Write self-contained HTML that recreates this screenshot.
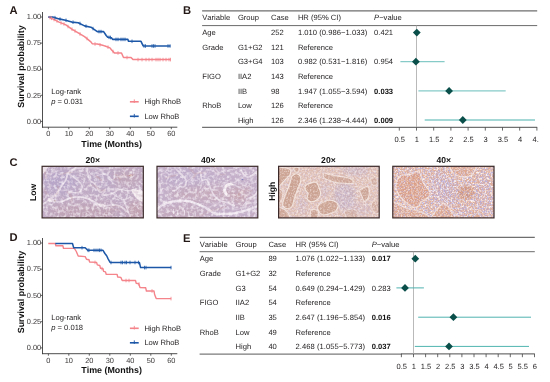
<!DOCTYPE html>
<html><head><meta charset="utf-8"><title>Figure</title>
<style>
html,body{margin:0;padding:0;background:#fff;}
body{width:550px;height:382px;overflow:hidden;}
svg{display:block;font-family:"Liberation Sans",sans-serif;font-kerning:none;text-rendering:geometricPrecision;}
.pl{font-size:11.2px;font-weight:bold;fill:#231815;}
.tk{font-size:7.4px;fill:#3c3838;}
.ft{font-size:7.5px;fill:#1f1c1c;}
.t{font-size:7.6px;fill:#1f1c1c;}
.tb{font-size:7.6px;fill:#111;font-weight:bold;}
.axl{font-size:8.9px;font-weight:bold;fill:#111;}
.cl{font-size:8.6px;font-weight:bold;fill:#111;}
</style></head><body>
<svg width="550" height="382" viewBox="0 0 550 382">
<rect width="550" height="382" fill="#fff"/>
<g>
<text x="9.6" y="14.1" class="pl">A</text>
<line x1="42.5" y1="12.0" x2="42.5" y2="127.7" stroke="#3a3a3a" stroke-width="0.9"/>
<line x1="42.1" y1="127.2" x2="177.3" y2="127.2" stroke="#3a3a3a" stroke-width="0.9"/>
<line x1="40.6" y1="121.4" x2="42.5" y2="121.4" stroke="#3a3a3a" stroke-width="0.8"/>
<text x="41.2" y="123.6" class="tk" text-anchor="end">0.00</text>
<line x1="40.6" y1="95.3" x2="42.5" y2="95.3" stroke="#3a3a3a" stroke-width="0.8"/>
<text x="41.2" y="97.5" class="tk" text-anchor="end">0.25</text>
<line x1="40.6" y1="69.2" x2="42.5" y2="69.2" stroke="#3a3a3a" stroke-width="0.8"/>
<text x="41.2" y="71.4" class="tk" text-anchor="end">0.50</text>
<line x1="40.6" y1="43.1" x2="42.5" y2="43.1" stroke="#3a3a3a" stroke-width="0.8"/>
<text x="41.2" y="45.3" class="tk" text-anchor="end">0.75</text>
<line x1="40.6" y1="17.0" x2="42.5" y2="17.0" stroke="#3a3a3a" stroke-width="0.8"/>
<text x="41.2" y="19.2" class="tk" text-anchor="end">1.00</text>
<line x1="48.4" y1="127.2" x2="48.4" y2="129.2" stroke="#3a3a3a" stroke-width="0.8"/>
<text x="48.4" y="136.4" class="tk" text-anchor="middle">0</text>
<line x1="68.8" y1="127.2" x2="68.8" y2="129.2" stroke="#3a3a3a" stroke-width="0.8"/>
<text x="68.8" y="136.4" class="tk" text-anchor="middle">10</text>
<line x1="89.3" y1="127.2" x2="89.3" y2="129.2" stroke="#3a3a3a" stroke-width="0.8"/>
<text x="89.3" y="136.4" class="tk" text-anchor="middle">20</text>
<line x1="109.8" y1="127.2" x2="109.8" y2="129.2" stroke="#3a3a3a" stroke-width="0.8"/>
<text x="109.8" y="136.4" class="tk" text-anchor="middle">30</text>
<line x1="130.3" y1="127.2" x2="130.3" y2="129.2" stroke="#3a3a3a" stroke-width="0.8"/>
<text x="130.3" y="136.4" class="tk" text-anchor="middle">40</text>
<line x1="150.8" y1="127.2" x2="150.8" y2="129.2" stroke="#3a3a3a" stroke-width="0.8"/>
<text x="150.8" y="136.4" class="tk" text-anchor="middle">50</text>
<line x1="171.3" y1="127.2" x2="171.3" y2="129.2" stroke="#3a3a3a" stroke-width="0.8"/>
<text x="171.3" y="136.4" class="tk" text-anchor="middle">60</text>
<text x="111.6" y="146.8" class="axl" text-anchor="middle">Time (Months)</text>
<text transform="translate(24.3,66.6) rotate(-90)" class="axl" text-anchor="middle">Survival probability</text>
<text x="51.2" y="94.0" class="t">Log-rank</text>
<text x="51.2" y="103.9" class="t"><tspan font-style="italic">p</tspan> = 0.031</text>
<line x1="129.9" y1="101.8" x2="138.7" y2="101.8" stroke="#F4838A" stroke-width="1.6"/>
<line x1="134.3" y1="99.4" x2="134.3" y2="103.0" stroke="#F4838A" stroke-width="0.9"/>
<text x="144.4" y="104.4" class="t">High RhoB</text>
<line x1="129.9" y1="116.3" x2="138.7" y2="116.3" stroke="#1C57A7" stroke-width="1.6"/>
<line x1="134.3" y1="113.9" x2="134.3" y2="117.5" stroke="#1C57A7" stroke-width="0.9"/>
<text x="144.4" y="118.9" class="t">Low RhoB</text>
<path d="M48.3,17.0 L52.7,18.9 L59.1,22.1 L65.5,24.6 L71.8,29.1 L78.2,32.9 L84.5,36.7 L90.9,41.8 L92.2,43.7 L97.3,44.1 L103.6,45.6 L105.0,46.0 L110.0,47.9 L111.4,49.8 L114.5,53.0 L121.5,53.0 L123.5,57.5 L131.0,57.5 L133.0,59.6 L170.5,59.6" fill="none" stroke="#F4838A" stroke-width="1.5" stroke-linejoin="round"/>
<path d="M48.3,17.0 L52.7,17.0 L59.1,18.9 L65.5,20.2 L71.8,22.1 L78.2,22.7 L84.5,25.9 L90.9,27.2 L97.3,31.6 L103.6,31.6 L106.2,35.5 L107.5,37.1 L111.4,37.7 L112.6,39.4 L127.9,39.4 L128.5,41.3 L139.4,41.3 L141.0,41.3 L143.2,46.0 L170.5,46.0" fill="none" stroke="#1C57A7" stroke-width="1.6" stroke-linejoin="round"/>
<line x1="50.0" y1="15.8" x2="50.0" y2="19.4" stroke="#F4838A" stroke-width="0.8"/>
<line x1="51.5" y1="16.5" x2="51.5" y2="20.1" stroke="#F4838A" stroke-width="0.8"/>
<line x1="54.0" y1="17.7" x2="54.0" y2="21.3" stroke="#F4838A" stroke-width="0.8"/>
<line x1="57.0" y1="19.2" x2="57.0" y2="22.8" stroke="#F4838A" stroke-width="0.8"/>
<line x1="61.0" y1="21.2" x2="61.0" y2="24.8" stroke="#F4838A" stroke-width="0.8"/>
<line x1="64.0" y1="22.2" x2="64.0" y2="25.8" stroke="#F4838A" stroke-width="0.8"/>
<line x1="68.0" y1="24.7" x2="68.0" y2="28.3" stroke="#F4838A" stroke-width="0.8"/>
<line x1="72.0" y1="27.4" x2="72.0" y2="31.0" stroke="#F4838A" stroke-width="0.8"/>
<line x1="75.0" y1="29.2" x2="75.0" y2="32.8" stroke="#F4838A" stroke-width="0.8"/>
<line x1="80.0" y1="32.2" x2="80.0" y2="35.8" stroke="#F4838A" stroke-width="0.8"/>
<line x1="87.0" y1="36.7" x2="87.0" y2="40.3" stroke="#F4838A" stroke-width="0.8"/>
<line x1="95.0" y1="42.2" x2="95.0" y2="45.8" stroke="#F4838A" stroke-width="0.8"/>
<line x1="100.0" y1="43.0" x2="100.0" y2="46.6" stroke="#F4838A" stroke-width="0.8"/>
<line x1="108.0" y1="45.4" x2="108.0" y2="49.0" stroke="#F4838A" stroke-width="0.8"/>
<line x1="113.0" y1="49.7" x2="113.0" y2="53.3" stroke="#F4838A" stroke-width="0.8"/>
<line x1="118.0" y1="51.2" x2="118.0" y2="54.8" stroke="#F4838A" stroke-width="0.8"/>
<line x1="127.0" y1="55.7" x2="127.0" y2="59.3" stroke="#F4838A" stroke-width="0.8"/>
<line x1="138.0" y1="57.8" x2="138.0" y2="61.4" stroke="#F4838A" stroke-width="0.8"/>
<line x1="142.0" y1="57.8" x2="142.0" y2="61.4" stroke="#F4838A" stroke-width="0.8"/>
<line x1="146.0" y1="57.8" x2="146.0" y2="61.4" stroke="#F4838A" stroke-width="0.8"/>
<line x1="149.0" y1="57.8" x2="149.0" y2="61.4" stroke="#F4838A" stroke-width="0.8"/>
<line x1="152.0" y1="57.8" x2="152.0" y2="61.4" stroke="#F4838A" stroke-width="0.8"/>
<line x1="156.0" y1="57.8" x2="156.0" y2="61.4" stroke="#F4838A" stroke-width="0.8"/>
<line x1="158.0" y1="57.8" x2="158.0" y2="61.4" stroke="#F4838A" stroke-width="0.8"/>
<line x1="160.0" y1="57.8" x2="160.0" y2="61.4" stroke="#F4838A" stroke-width="0.8"/>
<line x1="163.0" y1="57.8" x2="163.0" y2="61.4" stroke="#F4838A" stroke-width="0.8"/>
<line x1="166.0" y1="57.8" x2="166.0" y2="61.4" stroke="#F4838A" stroke-width="0.8"/>
<line x1="169.0" y1="57.8" x2="169.0" y2="61.4" stroke="#F4838A" stroke-width="0.8"/>
<line x1="170.5" y1="57.8" x2="170.5" y2="61.4" stroke="#F4838A" stroke-width="0.8"/>
<line x1="55.0" y1="15.9" x2="55.0" y2="19.5" stroke="#1C57A7" stroke-width="0.8"/>
<line x1="60.0" y1="17.3" x2="60.0" y2="20.9" stroke="#1C57A7" stroke-width="0.8"/>
<line x1="66.0" y1="18.5" x2="66.0" y2="22.1" stroke="#1C57A7" stroke-width="0.8"/>
<line x1="73.0" y1="20.4" x2="73.0" y2="24.0" stroke="#1C57A7" stroke-width="0.8"/>
<line x1="80.0" y1="21.7" x2="80.0" y2="25.3" stroke="#1C57A7" stroke-width="0.8"/>
<line x1="86.0" y1="24.4" x2="86.0" y2="28.0" stroke="#1C57A7" stroke-width="0.8"/>
<line x1="93.0" y1="26.8" x2="93.0" y2="30.4" stroke="#1C57A7" stroke-width="0.8"/>
<line x1="99.0" y1="29.8" x2="99.0" y2="33.4" stroke="#1C57A7" stroke-width="0.8"/>
<line x1="101.0" y1="29.8" x2="101.0" y2="33.4" stroke="#1C57A7" stroke-width="0.8"/>
<line x1="109.0" y1="35.5" x2="109.0" y2="39.1" stroke="#1C57A7" stroke-width="0.8"/>
<line x1="110.5" y1="35.7" x2="110.5" y2="39.3" stroke="#1C57A7" stroke-width="0.8"/>
<line x1="116.0" y1="37.6" x2="116.0" y2="41.2" stroke="#1C57A7" stroke-width="0.8"/>
<line x1="118.0" y1="37.6" x2="118.0" y2="41.2" stroke="#1C57A7" stroke-width="0.8"/>
<line x1="121.0" y1="37.6" x2="121.0" y2="41.2" stroke="#1C57A7" stroke-width="0.8"/>
<line x1="123.0" y1="37.6" x2="123.0" y2="41.2" stroke="#1C57A7" stroke-width="0.8"/>
<line x1="125.0" y1="37.6" x2="125.0" y2="41.2" stroke="#1C57A7" stroke-width="0.8"/>
<line x1="132.0" y1="39.5" x2="132.0" y2="43.1" stroke="#1C57A7" stroke-width="0.8"/>
<line x1="144.0" y1="44.2" x2="144.0" y2="47.8" stroke="#1C57A7" stroke-width="0.8"/>
<line x1="145.5" y1="44.2" x2="145.5" y2="47.8" stroke="#1C57A7" stroke-width="0.8"/>
<line x1="152.0" y1="44.2" x2="152.0" y2="47.8" stroke="#1C57A7" stroke-width="0.8"/>
<line x1="153.5" y1="44.2" x2="153.5" y2="47.8" stroke="#1C57A7" stroke-width="0.8"/>
<line x1="155.0" y1="44.2" x2="155.0" y2="47.8" stroke="#1C57A7" stroke-width="0.8"/>
<line x1="168.0" y1="44.2" x2="168.0" y2="47.8" stroke="#1C57A7" stroke-width="0.8"/>
<line x1="170.0" y1="44.2" x2="170.0" y2="47.8" stroke="#1C57A7" stroke-width="0.8"/>
</g>
<g>
<text x="9.6" y="241.3" class="pl">D</text>
<line x1="42.5" y1="238.0" x2="42.5" y2="354.1" stroke="#3a3a3a" stroke-width="0.9"/>
<line x1="42.1" y1="353.7" x2="177.3" y2="353.7" stroke="#3a3a3a" stroke-width="0.9"/>
<line x1="40.6" y1="347.9" x2="42.5" y2="347.9" stroke="#3a3a3a" stroke-width="0.8"/>
<text x="41.2" y="350.1" class="tk" text-anchor="end">0.00</text>
<line x1="40.6" y1="321.7" x2="42.5" y2="321.7" stroke="#3a3a3a" stroke-width="0.8"/>
<text x="41.2" y="323.9" class="tk" text-anchor="end">0.25</text>
<line x1="40.6" y1="295.4" x2="42.5" y2="295.4" stroke="#3a3a3a" stroke-width="0.8"/>
<text x="41.2" y="297.6" class="tk" text-anchor="end">0.50</text>
<line x1="40.6" y1="269.2" x2="42.5" y2="269.2" stroke="#3a3a3a" stroke-width="0.8"/>
<text x="41.2" y="271.4" class="tk" text-anchor="end">0.75</text>
<line x1="40.6" y1="243.0" x2="42.5" y2="243.0" stroke="#3a3a3a" stroke-width="0.8"/>
<text x="41.2" y="245.2" class="tk" text-anchor="end">1.00</text>
<line x1="48.4" y1="353.7" x2="48.4" y2="355.7" stroke="#3a3a3a" stroke-width="0.8"/>
<text x="48.4" y="362.9" class="tk" text-anchor="middle">0</text>
<line x1="68.8" y1="353.7" x2="68.8" y2="355.7" stroke="#3a3a3a" stroke-width="0.8"/>
<text x="68.8" y="362.9" class="tk" text-anchor="middle">10</text>
<line x1="89.3" y1="353.7" x2="89.3" y2="355.7" stroke="#3a3a3a" stroke-width="0.8"/>
<text x="89.3" y="362.9" class="tk" text-anchor="middle">20</text>
<line x1="109.8" y1="353.7" x2="109.8" y2="355.7" stroke="#3a3a3a" stroke-width="0.8"/>
<text x="109.8" y="362.9" class="tk" text-anchor="middle">30</text>
<line x1="130.3" y1="353.7" x2="130.3" y2="355.7" stroke="#3a3a3a" stroke-width="0.8"/>
<text x="130.3" y="362.9" class="tk" text-anchor="middle">40</text>
<line x1="150.8" y1="353.7" x2="150.8" y2="355.7" stroke="#3a3a3a" stroke-width="0.8"/>
<text x="150.8" y="362.9" class="tk" text-anchor="middle">50</text>
<line x1="171.3" y1="353.7" x2="171.3" y2="355.7" stroke="#3a3a3a" stroke-width="0.8"/>
<text x="171.3" y="362.9" class="tk" text-anchor="middle">60</text>
<text x="111.6" y="373.3" class="axl" text-anchor="middle">Time (Months)</text>
<text transform="translate(24.3,292.1) rotate(-90)" class="axl" text-anchor="middle">Survival probability</text>
<text x="51.2" y="319.7" class="t">Log-rank</text>
<text x="51.2" y="330.4" class="t"><tspan font-style="italic">p</tspan> = 0.018</text>
<line x1="129.9" y1="328.3" x2="138.7" y2="328.3" stroke="#F4838A" stroke-width="1.6"/>
<line x1="134.3" y1="325.9" x2="134.3" y2="329.5" stroke="#F4838A" stroke-width="0.9"/>
<text x="144.4" y="330.9" class="t">High RhoB</text>
<line x1="129.9" y1="342.8" x2="138.7" y2="342.8" stroke="#1C57A7" stroke-width="1.6"/>
<line x1="134.3" y1="340.4" x2="134.3" y2="344.0" stroke="#1C57A7" stroke-width="0.9"/>
<text x="144.4" y="345.4" class="t">Low RhoB</text>
<path d="M48.3,243.5 L55.3,243.5 L55.9,245.8 L62.9,245.8 L63.5,248.4 L74.4,248.4 L76.3,251.5 L78.2,256.0 L85.2,256.6 L86.5,259.2 L89.0,259.8 L89.6,262.0 L96.6,262.4 L97.3,264.9 L99.8,265.5 L100.5,268.3 L103.0,268.7 L103.6,271.3 L105.5,271.9 L106.2,274.3 L117.1,274.4 L117.7,277.0 L120.9,277.4 L122.2,280.5 L135.5,280.5 L136.2,283.3 L138.7,283.7 L140.0,287.5 L145.7,287.8 L146.4,291.0 L154.0,291.0 L154.6,294.5 L156.2,298.6 L171.2,298.6" fill="none" stroke="#F4838A" stroke-width="1.4" stroke-linejoin="round"/>
<path d="M55.3,243.5 L72.5,243.5 L73.7,247.7 L85.2,247.7 L87.7,250.3 L103.0,250.3 L104.9,253.5 L106.8,256.0 L108.0,258.6 L110.1,262.5 L139.4,262.5 L140.6,267.6 L171.2,267.6" fill="none" stroke="#1C57A7" stroke-width="1.5" stroke-linejoin="round"/>
<line x1="95.0" y1="260.6" x2="95.0" y2="264.2" stroke="#F4838A" stroke-width="0.8"/>
<line x1="102.0" y1="266.8" x2="102.0" y2="270.4" stroke="#F4838A" stroke-width="0.8"/>
<line x1="126.0" y1="278.7" x2="126.0" y2="282.3" stroke="#F4838A" stroke-width="0.8"/>
<line x1="129.0" y1="278.7" x2="129.0" y2="282.3" stroke="#F4838A" stroke-width="0.8"/>
<line x1="139.0" y1="282.2" x2="139.0" y2="285.8" stroke="#F4838A" stroke-width="0.8"/>
<line x1="152.0" y1="289.2" x2="152.0" y2="292.8" stroke="#F4838A" stroke-width="0.8"/>
<line x1="171.0" y1="296.8" x2="171.0" y2="300.4" stroke="#F4838A" stroke-width="0.8"/>
<line x1="82.0" y1="245.9" x2="82.0" y2="249.5" stroke="#1C57A7" stroke-width="0.8"/>
<line x1="88.0" y1="248.5" x2="88.0" y2="252.1" stroke="#1C57A7" stroke-width="0.8"/>
<line x1="89.0" y1="248.5" x2="89.0" y2="252.1" stroke="#1C57A7" stroke-width="0.8"/>
<line x1="94.0" y1="248.5" x2="94.0" y2="252.1" stroke="#1C57A7" stroke-width="0.8"/>
<line x1="96.0" y1="248.5" x2="96.0" y2="252.1" stroke="#1C57A7" stroke-width="0.8"/>
<line x1="98.0" y1="248.5" x2="98.0" y2="252.1" stroke="#1C57A7" stroke-width="0.8"/>
<line x1="99.5" y1="248.5" x2="99.5" y2="252.1" stroke="#1C57A7" stroke-width="0.8"/>
<line x1="101.0" y1="248.5" x2="101.0" y2="252.1" stroke="#1C57A7" stroke-width="0.8"/>
<line x1="111.0" y1="260.7" x2="111.0" y2="264.3" stroke="#1C57A7" stroke-width="0.8"/>
<line x1="121.0" y1="260.7" x2="121.0" y2="264.3" stroke="#1C57A7" stroke-width="0.8"/>
<line x1="122.5" y1="260.7" x2="122.5" y2="264.3" stroke="#1C57A7" stroke-width="0.8"/>
<line x1="125.0" y1="260.7" x2="125.0" y2="264.3" stroke="#1C57A7" stroke-width="0.8"/>
<line x1="126.5" y1="260.7" x2="126.5" y2="264.3" stroke="#1C57A7" stroke-width="0.8"/>
<line x1="130.0" y1="260.7" x2="130.0" y2="264.3" stroke="#1C57A7" stroke-width="0.8"/>
<line x1="135.0" y1="260.7" x2="135.0" y2="264.3" stroke="#1C57A7" stroke-width="0.8"/>
<line x1="138.5" y1="260.7" x2="138.5" y2="264.3" stroke="#1C57A7" stroke-width="0.8"/>
<line x1="144.5" y1="265.8" x2="144.5" y2="269.4" stroke="#1C57A7" stroke-width="0.8"/>
<line x1="146.0" y1="265.8" x2="146.0" y2="269.4" stroke="#1C57A7" stroke-width="0.8"/>
<line x1="171.0" y1="265.8" x2="171.0" y2="269.4" stroke="#1C57A7" stroke-width="0.8"/>
</g>
<g>
<text x="183.0" y="13.9" class="pl">B</text>
<line x1="202.1" y1="10.9" x2="537.2" y2="10.9" stroke="#6e6e6e" stroke-width="1.2"/>
<line x1="202.1" y1="25.6" x2="537.2" y2="25.6" stroke="#444" stroke-width="0.8"/>
<line x1="202.1" y1="127.3" x2="537.2" y2="127.3" stroke="#3a3a3a" stroke-width="0.9"/>
<text x="202.3" y="20.3" class="t">Variable</text>
<text x="237.9" y="20.3" class="t">Group</text>
<text x="271.0" y="20.3" class="t">Case</text>
<text x="297.9" y="20.3" class="t">HR (95% CI)</text>
<text x="374.1" y="20.3" class="t"><tspan font-style="italic">P</tspan>−value</text>
<line x1="416.5" y1="25.6" x2="416.5" y2="127.3" stroke="#acacac" stroke-width="0.85"/>
<text x="202.3" y="35.3" class="t">Age</text>
<text x="271.0" y="35.3" class="t">252</text>
<text x="297.9" y="35.3" class="t" textLength="69.4" lengthAdjust="spacing">1.010 (0.986−1.033)</text>
<text x="374.1" y="35.3" class="t">0.421</text>
<line x1="416.0" y1="32.6" x2="417.6" y2="32.6" stroke="#86CBC8" stroke-width="1.3"/>
<path d="M412.9,32.6 L416.8,28.7 L420.7,32.6 L416.8,36.5Z" fill="#0B4F4A"/>
<text x="202.3" y="49.9" class="t">Grade</text>
<text x="237.9" y="49.9" class="t">G1+G2</text>
<text x="271.0" y="49.9" class="t">121</text>
<text x="297.9" y="49.9" class="t">Reference</text>
<text x="237.9" y="64.4" class="t">G3+G4</text>
<text x="271.0" y="64.4" class="t">103</text>
<text x="297.9" y="64.4" class="t" textLength="69.4" lengthAdjust="spacing">0.982 (0.531−1.816)</text>
<text x="374.1" y="64.4" class="t">0.954</text>
<line x1="400.4" y1="61.7" x2="444.6" y2="61.7" stroke="#86CBC8" stroke-width="1.3"/>
<path d="M412.0,61.7 L415.9,57.8 L419.8,61.7 L415.9,65.6Z" fill="#0B4F4A"/>
<text x="202.3" y="79.0" class="t">FIGO</text>
<text x="237.9" y="79.0" class="t">IIA2</text>
<text x="271.0" y="79.0" class="t">143</text>
<text x="297.9" y="79.0" class="t">Reference</text>
<text x="237.9" y="93.6" class="t">IIB</text>
<text x="271.0" y="93.6" class="t">98</text>
<text x="297.9" y="93.6" class="t" textLength="69.4" lengthAdjust="spacing">1.947 (1.055−3.594)</text>
<text x="374.1" y="93.6" class="tb">0.033</text>
<line x1="418.4" y1="90.9" x2="505.7" y2="90.9" stroke="#86CBC8" stroke-width="1.3"/>
<path d="M445.2,90.9 L449.1,87.0 L453.0,90.9 L449.1,94.8Z" fill="#0B4F4A"/>
<text x="202.3" y="108.1" class="t">RhoB</text>
<text x="237.9" y="108.1" class="t">Low</text>
<text x="271.0" y="108.1" class="t">126</text>
<text x="297.9" y="108.1" class="t">Reference</text>
<text x="237.9" y="122.7" class="t">High</text>
<text x="271.0" y="122.7" class="t">126</text>
<text x="297.9" y="122.7" class="t" textLength="69.4" lengthAdjust="spacing">2.346 (1.238−4.444)</text>
<text x="374.1" y="122.7" class="tb">0.009</text>
<line x1="424.7" y1="120.0" x2="535.0" y2="120.0" stroke="#86CBC8" stroke-width="1.3"/>
<path d="M458.9,120.0 L462.8,116.1 L466.7,120.0 L462.8,123.9Z" fill="#0B4F4A"/>
<line x1="399.3" y1="127.3" x2="399.3" y2="130.6" stroke="#444" stroke-width="0.8"/>
<text x="399.7" y="141.9" class="ft" text-anchor="middle">0.5</text>
<line x1="416.5" y1="127.3" x2="416.5" y2="130.6" stroke="#444" stroke-width="0.8"/>
<text x="416.9" y="141.9" class="ft" text-anchor="middle">1</text>
<line x1="433.7" y1="127.3" x2="433.7" y2="130.6" stroke="#444" stroke-width="0.8"/>
<text x="434.1" y="141.9" class="ft" text-anchor="middle">1.5</text>
<line x1="450.9" y1="127.3" x2="450.9" y2="130.6" stroke="#444" stroke-width="0.8"/>
<text x="451.3" y="141.9" class="ft" text-anchor="middle">2</text>
<line x1="468.1" y1="127.3" x2="468.1" y2="130.6" stroke="#444" stroke-width="0.8"/>
<text x="468.5" y="141.9" class="ft" text-anchor="middle">2.5</text>
<line x1="485.3" y1="127.3" x2="485.3" y2="130.6" stroke="#444" stroke-width="0.8"/>
<text x="485.7" y="141.9" class="ft" text-anchor="middle">3</text>
<line x1="502.5" y1="127.3" x2="502.5" y2="130.6" stroke="#444" stroke-width="0.8"/>
<text x="502.9" y="141.9" class="ft" text-anchor="middle">3.5</text>
<line x1="519.7" y1="127.3" x2="519.7" y2="130.6" stroke="#444" stroke-width="0.8"/>
<text x="520.1" y="141.9" class="ft" text-anchor="middle">4</text>
<line x1="536.9" y1="127.3" x2="536.9" y2="130.6" stroke="#444" stroke-width="0.8"/>
<text x="532.6" y="141.9" class="ft">4.</text>
</g>
<g>
<text x="183.1" y="241.7" class="pl">E</text>
<line x1="199.6" y1="237.3" x2="534.8" y2="237.3" stroke="#6e6e6e" stroke-width="1.2"/>
<line x1="199.6" y1="251.7" x2="534.8" y2="251.7" stroke="#444" stroke-width="0.8"/>
<line x1="199.6" y1="354.09999999999997" x2="401.4" y2="354.09999999999997" stroke="#7a7a7a" stroke-width="1.3"/>
<line x1="401.0" y1="353.9" x2="534.8" y2="353.9" stroke="#3a3a3a" stroke-width="0.9"/>
<text x="199.8" y="246.7" class="t">Variable</text>
<text x="235.6" y="246.7" class="t">Group</text>
<text x="268.4" y="246.7" class="t">Case</text>
<text x="295.6" y="246.7" class="t">HR (95% CI)</text>
<text x="371.7" y="246.7" class="t"><tspan font-style="italic">P</tspan>−value</text>
<line x1="413.5" y1="251.7" x2="413.5" y2="353.9" stroke="#acacac" stroke-width="0.85"/>
<text x="199.8" y="261.4" class="t">Age</text>
<text x="268.4" y="261.4" class="t">89</text>
<text x="295.6" y="261.4" class="t" textLength="69.4" lengthAdjust="spacing">1.076 (1.022−1.133)</text>
<text x="371.7" y="261.4" class="tb">0.017</text>
<line x1="414.0" y1="258.7" x2="416.7" y2="258.7" stroke="#4FB3AE" stroke-width="1.0"/>
<path d="M411.4,258.7 L415.3,254.8 L419.2,258.7 L415.3,262.6Z" fill="#0B4F4A"/>
<text x="199.8" y="276.0" class="t">Grade</text>
<text x="235.6" y="276.0" class="t">G1+G2</text>
<text x="268.4" y="276.0" class="t">32</text>
<text x="295.6" y="276.0" class="t">Reference</text>
<text x="235.6" y="290.6" class="t">G3</text>
<text x="268.4" y="290.6" class="t">54</text>
<text x="295.6" y="290.6" class="t" textLength="69.4" lengthAdjust="spacing">0.649 (0.294−1.429)</text>
<text x="371.7" y="290.6" class="t">0.283</text>
<line x1="396.4" y1="287.9" x2="423.9" y2="287.9" stroke="#4FB3AE" stroke-width="1.0"/>
<path d="M401.1,287.9 L405.0,284.0 L408.9,287.9 L405.0,291.8Z" fill="#0B4F4A"/>
<text x="199.8" y="305.3" class="t">FIGO</text>
<text x="235.6" y="305.3" class="t">IIA2</text>
<text x="268.4" y="305.3" class="t">54</text>
<text x="295.6" y="305.3" class="t">Reference</text>
<text x="235.6" y="319.9" class="t">IIB</text>
<text x="268.4" y="319.9" class="t">35</text>
<text x="295.6" y="319.9" class="t" textLength="69.4" lengthAdjust="spacing">2.647 (1.196−5.854)</text>
<text x="371.7" y="319.9" class="tb">0.016</text>
<line x1="418.2" y1="317.2" x2="531.0" y2="317.2" stroke="#4FB3AE" stroke-width="1.0"/>
<path d="M449.5,317.2 L453.4,313.3 L457.3,317.2 L453.4,321.1Z" fill="#0B4F4A"/>
<text x="199.8" y="334.5" class="t">RhoB</text>
<text x="235.6" y="334.5" class="t">Low</text>
<text x="268.4" y="334.5" class="t">49</text>
<text x="295.6" y="334.5" class="t">Reference</text>
<text x="235.6" y="349.1" class="t">High</text>
<text x="268.4" y="349.1" class="t">40</text>
<text x="295.6" y="349.1" class="t" textLength="69.4" lengthAdjust="spacing">2.468 (1.055−5.773)</text>
<text x="371.7" y="349.1" class="tb">0.037</text>
<line x1="414.8" y1="346.4" x2="529.0" y2="346.4" stroke="#4FB3AE" stroke-width="1.0"/>
<path d="M445.1,346.4 L449.0,342.5 L452.9,346.4 L449.0,350.3Z" fill="#0B4F4A"/>
<line x1="401.4" y1="353.9" x2="401.4" y2="357.2" stroke="#444" stroke-width="0.8"/>
<text x="401.8" y="368.5" class="ft" text-anchor="middle">0.5</text>
<line x1="413.5" y1="353.9" x2="413.5" y2="357.2" stroke="#444" stroke-width="0.8"/>
<text x="413.9" y="368.5" class="ft" text-anchor="middle">1</text>
<line x1="425.6" y1="353.9" x2="425.6" y2="357.2" stroke="#444" stroke-width="0.8"/>
<text x="426.0" y="368.5" class="ft" text-anchor="middle">1.5</text>
<line x1="437.7" y1="353.9" x2="437.7" y2="357.2" stroke="#444" stroke-width="0.8"/>
<text x="438.1" y="368.5" class="ft" text-anchor="middle">2</text>
<line x1="449.8" y1="353.9" x2="449.8" y2="357.2" stroke="#444" stroke-width="0.8"/>
<text x="450.2" y="368.5" class="ft" text-anchor="middle">2.5</text>
<line x1="461.9" y1="353.9" x2="461.9" y2="357.2" stroke="#444" stroke-width="0.8"/>
<text x="462.3" y="368.5" class="ft" text-anchor="middle">3</text>
<line x1="474.0" y1="353.9" x2="474.0" y2="357.2" stroke="#444" stroke-width="0.8"/>
<text x="474.4" y="368.5" class="ft" text-anchor="middle">3.5</text>
<line x1="486.1" y1="353.9" x2="486.1" y2="357.2" stroke="#444" stroke-width="0.8"/>
<text x="486.5" y="368.5" class="ft" text-anchor="middle">4</text>
<line x1="498.2" y1="353.9" x2="498.2" y2="357.2" stroke="#444" stroke-width="0.8"/>
<text x="498.6" y="368.5" class="ft" text-anchor="middle">4.5</text>
<line x1="510.3" y1="353.9" x2="510.3" y2="357.2" stroke="#444" stroke-width="0.8"/>
<text x="510.7" y="368.5" class="ft" text-anchor="middle">5</text>
<line x1="522.4" y1="353.9" x2="522.4" y2="357.2" stroke="#444" stroke-width="0.8"/>
<text x="522.8" y="368.5" class="ft" text-anchor="middle">5.5</text>
<line x1="534.5" y1="353.9" x2="534.5" y2="357.2" stroke="#444" stroke-width="0.8"/>
<text x="534.9" y="368.5" class="ft" text-anchor="middle">6</text>
</g>
<defs>
<filter id="b05" x="-20%" y="-20%" width="140%" height="140%"><feGaussianBlur stdDeviation="0.5"/></filter>
<filter id="b07" x="-20%" y="-20%" width="140%" height="140%"><feGaussianBlur stdDeviation="0.7"/></filter>
<filter id="b1" x="-20%" y="-20%" width="140%" height="140%"><feGaussianBlur stdDeviation="1"/></filter>
<filter id="b2" x="-30%" y="-30%" width="160%" height="160%"><feGaussianBlur stdDeviation="2"/></filter>
<filter id="b4" x="-50%" y="-50%" width="200%" height="200%"><feGaussianBlur stdDeviation="4"/></filter>
<filter id="nw1" x="0" y="0" width="100%" height="100%"><feTurbulence type="fractalNoise" baseFrequency="0.32" numOctaves="2" seed="3" result="n"/><feColorMatrix in="n" type="matrix" values="0 0 0 0 0.96 0 0 0 0 0.92 0 0 0 0 0.96 3.4 0 0 0 -1.45"/></filter>
<filter id="nw2" x="0" y="0" width="100%" height="100%"><feTurbulence type="fractalNoise" baseFrequency="0.32" numOctaves="2" seed="11" result="n"/><feColorMatrix in="n" type="matrix" values="0 0 0 0 0.96 0 0 0 0 0.92 0 0 0 0 0.96 3.4 0 0 0 -1.45"/></filter>
<filter id="nw3" x="0" y="0" width="100%" height="100%"><feTurbulence type="fractalNoise" baseFrequency="0.45" numOctaves="3" seed="5" result="n"/><feColorMatrix in="n" type="matrix" values="0 0 0 0 1 0 0 0 0 0.93 0 0 0 0 0.92 3.0 0 0 0 -1.3"/></filter>
<filter id="nw4" x="0" y="0" width="100%" height="100%"><feTurbulence type="fractalNoise" baseFrequency="0.5" numOctaves="2" seed="8" result="n"/><feColorMatrix in="n" type="matrix" values="0 0 0 0 1 0 0 0 0 0.95 0 0 0 0 0.94 5 0 0 0 -2.55"/></filter>
<filter id="nd1" x="0" y="0" width="100%" height="100%"><feTurbulence type="fractalNoise" baseFrequency="0.32" numOctaves="2" seed="21" result="n"/><feColorMatrix in="n" type="matrix" values="0 0 0 0 0.55 0 0 0 0 0.4 0 0 0 0 0.55 3.4 0 0 0 -1.5"/></filter>
<filter id="nd2" x="0" y="0" width="100%" height="100%"><feTurbulence type="fractalNoise" baseFrequency="0.32" numOctaves="2" seed="23" result="n"/><feColorMatrix in="n" type="matrix" values="0 0 0 0 0.55 0 0 0 0 0.42 0 0 0 0 0.6 3.4 0 0 0 -1.5"/></filter>
<filter id="nb3" x="0" y="0" width="100%" height="100%"><feTurbulence type="fractalNoise" baseFrequency="0.5" numOctaves="3" seed="31" result="n"/><feColorMatrix in="n" type="matrix" values="0 0 0 0 0.55 0 0 0 0 0.5 0 0 0 0 0.78 3.5 0 0 0 -1.6"/></filter>
<filter id="nb4" x="0" y="0" width="100%" height="100%"><feTurbulence type="fractalNoise" baseFrequency="0.55" numOctaves="2" seed="37" result="n"/><feColorMatrix in="n" type="matrix" values="0 0 0 0 0.45 0 0 0 0 0.42 0 0 0 0 0.76 6 0 0 0 -3.05"/></filter>
<filter id="nr4" x="0" y="0" width="100%" height="100%"><feTurbulence type="fractalNoise" baseFrequency="0.5" numOctaves="2" seed="41" result="n"/><feColorMatrix in="n" type="matrix" values="0 0 0 0 0.83 0 0 0 0 0.5 0 0 0 0 0.36 4 0 0 0 -1.9"/></filter>
<filter id="nf3" x="0" y="0" width="100%" height="100%"><feTurbulence type="fractalNoise" baseFrequency="0.6" numOctaves="2" seed="51" result="n"/><feColorMatrix in="n" type="matrix" values="0 0 0 0 0.98 0 0 0 0 0.9 0 0 0 0 0.88 3.0 0 0 0 -1.3"/></filter>
<filter id="nf4" x="0" y="0" width="100%" height="100%"><feTurbulence type="fractalNoise" baseFrequency="0.7" numOctaves="2" seed="53" result="n"/><feColorMatrix in="n" type="matrix" values="0 0 0 0 1 0 0 0 0 0.92 0 0 0 0 0.9 3.5 0 0 0 -1.5"/></filter>
<filter id="nb4b" x="0" y="0" width="100%" height="100%"><feTurbulence type="fractalNoise" baseFrequency="0.6" numOctaves="2" seed="57" result="n"/><feColorMatrix in="n" type="matrix" values="0 0 0 0 0.45 0 0 0 0 0.42 0 0 0 0 0.78 6 0 0 0 -3.2"/></filter>
</defs>
<g>
<text x="9.6" y="166" class="pl">C</text>
<text x="92.8" y="163.3" class="cl" text-anchor="middle">20×</text>
<text x="208.2" y="163.3" class="cl" text-anchor="middle">40×</text>
<text x="328.4" y="163.3" class="cl" text-anchor="middle">20×</text>
<text x="443.8" y="163.3" class="cl" text-anchor="middle">40×</text>
<text transform="translate(36.4,192.3) rotate(-90)" class="cl" text-anchor="middle">Low</text>
<text transform="translate(274.8,191.2) rotate(-90)" class="cl" text-anchor="middle">High</text>
<svg x="42.1" y="166.3" width="101.2" height="51.6" viewBox="0 0 101.2 51.6" overflow="hidden">
<rect width="101.2" height="51.6" fill="#C1ADC6"/>
<ellipse cx="42" cy="46" rx="36" ry="9" fill="#BE9EAA" opacity="0.65" filter="url(#b4)"/>
<ellipse cx="94" cy="44" rx="10" ry="10" fill="#C29EA4" opacity="0.7" filter="url(#b4)"/>
<ellipse cx="85" cy="12" rx="14" ry="8" fill="#C0A0AC" opacity="0.5" filter="url(#b4)"/>
<ellipse cx="18" cy="16" rx="20" ry="12" fill="#B4A4CA" opacity="0.7" filter="url(#b4)"/>
<ellipse cx="60" cy="14" rx="14" ry="9" fill="#B6A6C8" opacity="0.5" filter="url(#b4)"/>
<path d="M0.0,38.5 C0.5,38.2 1.4,37.7 2.7,36.7 C4.0,35.7 6.2,33.9 8.0,32.5 C9.8,31.1 11.8,30.6 13.6,28.6 C15.4,26.6 17.3,22.9 19.0,20.4 C20.7,17.9 22.7,15.9 23.8,13.6 C24.9,11.3 24.6,8.6 25.9,6.8 C27.1,5.0 28.8,3.6 31.3,2.7 C33.8,1.8 39.2,1.6 40.8,1.4" fill="none" stroke="#F0E8F0" stroke-width="1.60" stroke-linecap="round" opacity="0.84" filter="url(#b07)"/>
<path d="M25.9,6.8 C26.8,7.5 29.5,9.5 31.3,10.9 C33.1,12.3 35.2,13.4 36.7,15.0 C38.2,16.6 39.8,18.7 40.0,20.4 C40.2,22.1 39.2,24.2 38.0,25.2 C36.8,26.2 34.5,26.4 32.7,26.5 C30.9,26.6 27.9,25.7 27.0,25.5" fill="none" stroke="#F0E8F0" stroke-width="1.44" stroke-linecap="round" opacity="0.79" filter="url(#b07)"/>
<path d="M12.0,35.0 C13.2,35.1 16.5,35.9 19.0,35.4 C21.5,34.9 24.5,32.8 27.2,32.0 C29.9,31.2 32.4,30.6 35.4,30.6 C38.4,30.6 42.2,31.2 45.0,32.0 C47.8,32.8 50.0,34.3 52.0,35.4 C54.0,36.5 56.2,38.0 57.0,38.5" fill="none" stroke="#F0E8F0" stroke-width="1.76" stroke-linecap="round" opacity="0.89" filter="url(#b07)"/>
<path d="M45.0,4.0 C45.4,5.6 46.3,11.3 47.6,13.6 C48.9,15.9 51.0,15.6 52.7,17.7 C54.4,19.8 56.2,25.0 58.0,25.9 C59.8,26.8 63.1,22.6 63.6,23.0 C64.1,23.4 59.9,27.9 61.0,28.6 C62.1,29.3 67.7,28.1 70.4,27.2 C73.1,26.3 74.7,23.4 77.2,23.0 C79.7,22.6 83.3,24.3 85.4,24.5 C87.5,24.7 89.2,24.1 90.0,24.0" fill="none" stroke="#F0E8F0" stroke-width="1.44" stroke-linecap="round" opacity="0.79" filter="url(#b07)"/>
<path d="M52.0,11.0 C52.8,10.6 55.1,9.0 57.0,8.5 C58.9,8.0 61.4,7.2 63.6,8.0 C65.8,8.8 68.8,13.6 70.4,13.6 C72.0,13.6 72.6,8.9 73.0,8.0" fill="none" stroke="#F0E8F0" stroke-width="1.28" stroke-linecap="round" opacity="0.63" filter="url(#b07)"/>
<path d="M81.6,33.4 C82.0,34.5 83.1,37.6 84.0,40.0 C84.9,42.4 86.5,46.7 87.0,48.0" fill="none" stroke="#F0E8F0" stroke-width="1.44" stroke-linecap="round" opacity="0.73" filter="url(#b07)"/>
<path d="M57.0,38.5 C58.1,38.7 61.4,39.5 63.6,39.5 C65.8,39.5 67.7,38.5 70.0,38.5 C72.3,38.5 75.3,38.9 77.2,39.5 C79.1,40.1 80.6,41.6 81.3,42.0" fill="none" stroke="#F0E8F0" stroke-width="1.44" stroke-linecap="round" opacity="0.73" filter="url(#b07)"/>
<path d="M44.0,2.0 C45.3,1.9 49.3,1.3 52.0,1.5 C54.7,1.7 57.0,2.9 60.0,3.0 C63.0,3.1 68.3,2.2 70.0,2.0" fill="none" stroke="#F0E8F0" stroke-width="1.28" stroke-linecap="round" opacity="0.53" filter="url(#b07)"/>
<path d="M70.4,27.2 C71.3,27.8 74.1,30.0 76.0,31.0 C77.9,32.0 79.6,33.4 81.6,33.4 C83.6,33.4 86.9,31.4 88.0,31.0" fill="none" stroke="#F0E8F0" stroke-width="1.28" stroke-linecap="round" opacity="0.63" filter="url(#b07)"/>
<path d="M15.0,40.0 C15.3,40.8 16.8,43.2 17.0,45.0 C17.2,46.8 16.2,50.0 16.0,51.0" fill="none" stroke="#F0E8F0" stroke-width="1.12" stroke-linecap="round" opacity="0.47" filter="url(#b07)"/>
<path d="M35.0,38.0 C35.5,39.0 37.7,41.8 38.0,44.0 C38.3,46.2 37.2,49.8 37.0,51.0" fill="none" stroke="#F0E8F0" stroke-width="1.12" stroke-linecap="round" opacity="0.47" filter="url(#b07)"/>
<path d="M50.0,35.4 L55.4,39.5" fill="none" stroke="#F0E8F0" stroke-width="1.44" stroke-linecap="round" opacity="0.73" filter="url(#b07)"/>
<path d="M89.5,23.0 C90.2,22.4 93.2,23.2 95.0,23.5 C96.8,23.8 99.5,23.1 100.5,25.0 C101.5,26.9 101.9,33.7 101.0,35.0 C100.1,36.3 96.7,34.0 95.0,32.7 C93.3,31.4 91.7,28.8 90.8,27.2 C89.9,25.6 88.8,23.6 89.5,23.0Z" fill="#F6EEF0" filter="url(#b05)"/>
<path d="M5.5,32.5 C5.9,31.9 7.9,31.3 9.0,31.5 C10.1,31.7 12.0,32.8 12.2,33.5 C12.4,34.2 10.9,35.2 10.0,35.5 C9.1,35.8 7.2,35.8 6.5,35.3 C5.8,34.8 5.1,33.1 5.5,32.5Z" fill="#F4ECF0" opacity="0.95" filter="url(#b05)"/>
<path d="M56.0,38.0 C56.3,37.4 59.8,37.2 61.0,37.5 C62.2,37.8 63.8,39.4 63.5,40.0 C63.2,40.6 60.2,41.3 59.0,41.0 C57.8,40.7 55.7,38.6 56.0,38.0Z" fill="#F4ECF0" opacity="0.9" filter="url(#b05)"/>
<path d="M0.0,0.0 C1.0,-1.3 5.2,-0.5 6.0,0.0 C6.8,0.5 5.2,1.8 4.5,3.0 C3.8,4.2 2.2,6.2 1.5,7.0 C0.8,7.8 0.2,9.2 0.0,8.0 C-0.2,6.8 -1.0,1.3 0.0,0.0Z" fill="#F4ECF0" opacity="0.9" filter="url(#b05)"/>
<circle cx="89" cy="5.8" r="1.2" fill="#F4ECF0" opacity="0.8" filter="url(#b05)"/>
<circle cx="88.8" cy="8.9" r="1.3" fill="#A8604A" opacity="0.85" filter="url(#b05)"/>
<circle cx="13" cy="34.5" r="0.9" fill="#8A5A5A" opacity="0.7" filter="url(#b05)"/>
<g filter="url(#b07)"><path d="M32.8,7.8 C32.7,7.3 32.5,6.4 32.6,5.1 C32.7,3.8 33.2,0.7 33.3,-0.2" fill="none" stroke="#E6DAE6" stroke-width="0.77" stroke-linecap="round" opacity="0.23"/><path d="M42.3,12.4 C42.0,12.1 41.4,10.9 40.2,10.2 C39.0,9.6 36.0,8.7 35.1,8.5" fill="none" stroke="#E6DAE6" stroke-width="1.23" stroke-linecap="round" opacity="0.35"/><path d="M40.1,50.4 C40.7,50.3 42.6,50.6 43.7,50.1 C44.8,49.7 46.2,48.2 46.7,47.8" fill="none" stroke="#E6DAE6" stroke-width="1.14" stroke-linecap="round" opacity="0.25"/><path d="M58.9,33.0 C58.1,33.3 55.7,34.3 54.1,34.7 C52.4,35.1 51.0,35.2 49.2,35.5 C47.4,35.8 45.2,35.9 43.1,36.2 C41.0,36.5 37.7,37.2 36.6,37.3" fill="none" stroke="#E6DAE6" stroke-width="0.86" stroke-linecap="round" opacity="0.27"/><path d="M18.2,40.2 C19.1,40.7 22.4,42.1 23.7,43.0 C25.0,43.9 25.8,44.8 26.0,45.7 C26.3,46.6 25.3,48.0 25.1,48.4" fill="none" stroke="#E6DAE6" stroke-width="0.89" stroke-linecap="round" opacity="0.40"/><path d="M15.4,25.2 C16.1,24.9 18.1,23.5 19.9,23.2 C21.7,22.8 24.5,23.4 26.2,23.2 C28.0,23.0 28.7,22.6 30.4,22.2 C32.1,21.8 35.4,21.1 36.4,20.8" fill="none" stroke="#E6DAE6" stroke-width="0.67" stroke-linecap="round" opacity="0.23"/><path d="M27.3,36.0 C28.0,36.5 30.7,37.7 31.3,39.1 C31.9,40.4 30.6,42.7 30.8,44.1 C30.9,45.5 31.9,46.6 32.1,47.6 C32.3,48.6 32.1,49.6 32.1,50.0" fill="none" stroke="#E6DAE6" stroke-width="0.92" stroke-linecap="round" opacity="0.25"/><path d="M11.9,3.0 C12.2,2.5 13.0,0.6 14.2,-0.1 C15.4,-0.8 18.2,-1.0 19.0,-1.2" fill="none" stroke="#E6DAE6" stroke-width="0.73" stroke-linecap="round" opacity="0.31"/><path d="M28.1,7.1 C27.6,7.5 26.0,8.6 25.0,9.8 C24.0,11.1 23.0,13.6 22.0,14.5 C20.9,15.4 19.5,14.7 18.5,15.2 C17.5,15.7 16.3,17.2 15.9,17.6" fill="none" stroke="#E6DAE6" stroke-width="0.78" stroke-linecap="round" opacity="0.33"/><path d="M59.6,13.6 C60.5,13.6 63.6,14.0 65.0,13.9 C66.5,13.9 66.8,13.0 68.4,13.3 C70.0,13.5 73.6,15.1 74.7,15.4" fill="none" stroke="#E6DAE6" stroke-width="1.04" stroke-linecap="round" opacity="0.39"/><path d="M46.2,44.9 C47.0,45.1 49.3,45.6 50.7,45.8 C52.0,46.0 53.0,45.8 54.1,45.9 C55.2,46.1 56.1,46.8 57.2,46.7 C58.3,46.6 60.0,45.5 60.6,45.3" fill="none" stroke="#E6DAE6" stroke-width="0.73" stroke-linecap="round" opacity="0.29"/><path d="M5.3,0.0 C5.2,0.7 4.1,3.2 4.3,4.3 C4.5,5.4 6.1,6.4 6.4,6.9" fill="none" stroke="#E6DAE6" stroke-width="0.87" stroke-linecap="round" opacity="0.37"/><path d="M96.7,31.1 C95.7,30.7 92.3,29.2 90.5,28.6 C88.7,27.9 86.7,27.3 85.9,27.0" fill="none" stroke="#E6DAE6" stroke-width="0.68" stroke-linecap="round" opacity="0.24"/><path d="M34.7,13.7 C35.0,13.2 35.5,11.6 36.6,11.0 C37.6,10.4 40.2,10.3 40.9,10.2" fill="none" stroke="#E6DAE6" stroke-width="1.06" stroke-linecap="round" opacity="0.43"/><path d="M76.7,15.4 C76.5,14.9 76.0,13.2 75.5,12.3 C74.9,11.4 73.8,10.2 73.5,9.8" fill="none" stroke="#E6DAE6" stroke-width="1.12" stroke-linecap="round" opacity="0.34"/><path d="M78.8,17.0 C78.5,17.8 77.4,20.5 76.5,21.7 C75.6,22.8 74.1,23.5 73.7,23.8" fill="none" stroke="#E6DAE6" stroke-width="0.96" stroke-linecap="round" opacity="0.30"/><path d="M2.9,1.4 C3.3,2.1 3.9,4.2 4.9,5.5 C5.8,6.8 7.8,8.2 8.6,9.5 C9.4,10.7 9.5,12.3 9.7,12.9" fill="none" stroke="#E6DAE6" stroke-width="1.24" stroke-linecap="round" opacity="0.23"/><path d="M10.3,24.3 C9.6,24.9 7.3,27.3 5.7,28.0 C4.1,28.8 2.7,28.7 0.9,28.7 C-0.9,28.8 -4.3,28.4 -5.3,28.3" fill="none" stroke="#E6DAE6" stroke-width="0.68" stroke-linecap="round" opacity="0.37"/><path d="M92.1,40.4 C92.6,39.9 94.2,38.2 95.1,37.5 C96.1,36.7 96.4,36.0 97.8,35.9 C99.3,35.8 102.7,36.6 103.6,36.7" fill="none" stroke="#E6DAE6" stroke-width="0.92" stroke-linecap="round" opacity="0.39"/><path d="M8.6,8.2 C9.5,7.6 12.3,5.5 13.8,4.9 C15.2,4.3 16.7,4.6 17.3,4.6" fill="none" stroke="#E6DAE6" stroke-width="1.15" stroke-linecap="round" opacity="0.45"/><path d="M66.5,18.1 C65.6,18.5 62.7,20.2 61.3,20.7 C59.8,21.2 58.4,21.0 57.9,21.1" fill="none" stroke="#E6DAE6" stroke-width="1.10" stroke-linecap="round" opacity="0.24"/><path d="M99.8,10.1 C100.1,9.5 101.1,8.1 101.2,6.9 C101.3,5.7 100.6,3.4 100.5,2.7" fill="none" stroke="#E6DAE6" stroke-width="0.79" stroke-linecap="round" opacity="0.31"/><path d="M13.3,47.0 C12.4,47.4 9.9,48.9 8.2,49.9 C6.5,50.9 4.4,52.3 3.0,52.7 C1.5,53.2 0.0,52.5 -0.5,52.5" fill="none" stroke="#E6DAE6" stroke-width="0.73" stroke-linecap="round" opacity="0.34"/><path d="M88.3,40.1 C87.5,40.0 85.0,40.1 83.5,39.7 C81.9,39.3 79.6,38.0 78.9,37.7" fill="none" stroke="#E6DAE6" stroke-width="0.84" stroke-linecap="round" opacity="0.34"/><path d="M56.2,40.5 C56.8,40.4 59.0,40.5 59.9,40.1 C60.9,39.6 61.3,38.6 61.9,37.9 C62.5,37.1 62.7,36.2 63.5,35.7 C64.2,35.2 66.0,35.0 66.6,34.9" fill="none" stroke="#E6DAE6" stroke-width="0.84" stroke-linecap="round" opacity="0.45"/><path d="M61.3,10.3 C61.2,10.9 61.2,13.1 60.2,14.1 C59.2,15.2 57.2,16.2 55.3,16.5 C53.3,16.8 50.5,15.7 48.6,15.8 C46.6,15.9 44.4,16.8 43.5,17.0" fill="none" stroke="#E6DAE6" stroke-width="1.22" stroke-linecap="round" opacity="0.42"/><path d="M13.9,6.3 C13.1,6.3 10.5,6.1 9.2,6.5 C7.8,6.8 6.2,8.0 5.6,8.3" fill="none" stroke="#E6DAE6" stroke-width="0.71" stroke-linecap="round" opacity="0.40"/><path d="M95.1,33.2 C93.9,33.3 90.3,33.3 88.3,34.0 C86.3,34.7 84.3,36.3 82.9,37.4 C81.4,38.4 80.1,39.8 79.6,40.3" fill="none" stroke="#E6DAE6" stroke-width="1.25" stroke-linecap="round" opacity="0.41"/><path d="M16.3,22.3 C15.6,22.3 13.2,22.0 11.9,22.4 C10.7,22.9 9.7,23.9 8.7,24.9 C7.8,25.9 6.8,27.8 6.4,28.3" fill="none" stroke="#E6DAE6" stroke-width="1.07" stroke-linecap="round" opacity="0.30"/><path d="M52.4,15.2 C53.2,15.7 56.5,17.2 57.3,18.1 C58.2,19.1 57.6,20.4 57.7,20.9" fill="none" stroke="#E6DAE6" stroke-width="0.80" stroke-linecap="round" opacity="0.22"/><path d="M78.8,14.0 C79.0,14.7 79.9,17.2 79.6,18.5 C79.2,19.7 77.7,20.4 76.7,21.4 C75.6,22.3 73.8,23.9 73.3,24.4" fill="none" stroke="#E6DAE6" stroke-width="0.94" stroke-linecap="round" opacity="0.29"/><path d="M28.2,41.3 C28.6,41.5 29.5,42.6 30.5,42.9 C31.6,43.2 33.9,42.9 34.6,42.9" fill="none" stroke="#E6DAE6" stroke-width="1.01" stroke-linecap="round" opacity="0.26"/><path d="M26.8,6.3 C27.9,6.2 31.8,5.9 33.4,5.9 C35.0,5.9 35.0,5.7 36.5,6.2 C38.0,6.7 41.3,8.0 42.4,8.9 C43.5,9.9 43.1,11.6 43.2,12.1" fill="none" stroke="#E6DAE6" stroke-width="0.74" stroke-linecap="round" opacity="0.44"/><path d="M63.6,27.4 C63.8,27.9 64.2,29.4 64.6,30.3 C65.1,31.1 65.6,31.8 66.2,32.4 C66.9,32.9 68.4,33.5 68.8,33.7" fill="none" stroke="#E6DAE6" stroke-width="1.09" stroke-linecap="round" opacity="0.35"/><path d="M19.2,24.5 C20.1,24.4 22.9,23.9 24.7,23.9 C26.5,23.9 29.0,24.5 29.8,24.6" fill="none" stroke="#E6DAE6" stroke-width="1.19" stroke-linecap="round" opacity="0.45"/><path d="M31.1,11.1 C30.7,11.8 29.5,14.1 28.5,15.3 C27.6,16.4 26.0,17.6 25.5,18.1" fill="none" stroke="#E6DAE6" stroke-width="0.85" stroke-linecap="round" opacity="0.22"/><path d="M13.1,3.6 C13.0,3.2 12.6,2.1 12.6,1.1 C12.5,0.1 12.8,-1.0 13.1,-2.5 C13.3,-4.0 13.8,-7.0 13.9,-7.9" fill="none" stroke="#E6DAE6" stroke-width="1.01" stroke-linecap="round" opacity="0.38"/><path d="M4.6,9.6 C4.9,10.4 6.7,13.3 6.6,14.8 C6.5,16.2 4.4,17.7 4.0,18.3" fill="none" stroke="#E6DAE6" stroke-width="0.78" stroke-linecap="round" opacity="0.45"/></g>
<g filter="url(#b07)"><path d="M46.9,19.3 C47.7,19.3 50.6,18.9 51.9,19.2 C53.1,19.5 53.3,20.1 54.4,20.9 C55.5,21.7 56.8,23.5 58.2,24.0 C59.6,24.5 62.0,23.9 62.7,23.9" fill="none" stroke="#C49A9A" stroke-width="1.91" stroke-linecap="round" opacity="0.27"/><path d="M73.4,8.1 C74.1,8.7 77.1,10.9 77.7,12.0 C78.4,13.0 77.3,14.1 77.3,14.5" fill="none" stroke="#C49A9A" stroke-width="1.89" stroke-linecap="round" opacity="0.35"/><path d="M89.8,47.4 C89.7,48.0 88.9,50.1 89.2,51.1 C89.5,52.2 91.2,53.3 91.6,53.8" fill="none" stroke="#C49A9A" stroke-width="1.36" stroke-linecap="round" opacity="0.24"/><path d="M81.9,10.3 C82.0,9.7 82.1,7.7 82.2,6.7 C82.2,5.7 82.4,5.5 82.3,4.2 C82.2,2.9 81.8,-0.2 81.7,-1.1" fill="none" stroke="#C49A9A" stroke-width="1.25" stroke-linecap="round" opacity="0.31"/><path d="M12.3,29.9 C12.9,29.1 15.5,27.2 16.0,25.5 C16.6,23.9 15.7,21.1 15.7,20.2" fill="none" stroke="#C49A9A" stroke-width="1.68" stroke-linecap="round" opacity="0.30"/><path d="M54.4,10.2 C54.8,10.5 56.2,11.3 57.0,11.9 C57.9,12.6 59.1,13.7 59.5,14.1" fill="none" stroke="#C49A9A" stroke-width="1.80" stroke-linecap="round" opacity="0.38"/><path d="M5.5,28.6 C5.0,27.9 3.4,25.5 2.8,24.4 C2.2,23.3 2.0,22.4 1.8,22.0" fill="none" stroke="#C49A9A" stroke-width="2.09" stroke-linecap="round" opacity="0.26"/><path d="M91.7,8.3 C90.8,8.5 88.1,9.1 86.1,9.3 C84.2,9.5 81.6,9.1 80.0,9.5 C78.5,10.0 78.4,11.5 77.0,12.0 C75.6,12.5 72.6,12.5 71.7,12.6" fill="none" stroke="#C49A9A" stroke-width="1.63" stroke-linecap="round" opacity="0.26"/><path d="M99.8,29.6 C100.6,29.5 103.1,29.5 104.4,28.9 C105.8,28.4 107.2,27.2 108.1,26.4 C109.0,25.6 109.1,24.8 109.8,24.1 C110.5,23.4 111.8,22.5 112.2,22.2" fill="none" stroke="#C49A9A" stroke-width="2.00" stroke-linecap="round" opacity="0.19"/><path d="M79.0,41.7 C78.2,41.3 76.0,39.8 74.3,39.7 C72.7,39.6 70.4,40.1 69.0,41.0 C67.6,41.9 67.0,43.7 65.9,45.2 C64.7,46.6 62.8,49.0 62.2,49.8" fill="none" stroke="#C49A9A" stroke-width="1.75" stroke-linecap="round" opacity="0.21"/><path d="M29.4,35.7 C29.4,34.8 29.9,31.9 29.2,30.2 C28.6,28.6 26.0,26.5 25.4,25.8" fill="none" stroke="#C49A9A" stroke-width="2.22" stroke-linecap="round" opacity="0.31"/><path d="M1.2,3.1 C1.5,3.5 2.6,4.2 3.0,5.1 C3.4,6.0 3.2,7.3 3.4,8.4 C3.5,9.5 3.8,11.1 3.9,11.7" fill="none" stroke="#C49A9A" stroke-width="2.20" stroke-linecap="round" opacity="0.34"/><path d="M30.0,6.1 C29.0,6.2 26.0,6.3 24.0,6.7 C21.9,7.1 18.8,8.2 17.8,8.5" fill="none" stroke="#C49A9A" stroke-width="1.31" stroke-linecap="round" opacity="0.33"/><path d="M78.1,45.4 C77.6,45.1 76.6,43.6 75.0,43.2 C73.5,42.8 69.9,43.0 68.8,43.0" fill="none" stroke="#C49A9A" stroke-width="2.04" stroke-linecap="round" opacity="0.21"/></g>
<rect width="101.2" height="51.6" filter="url(#nw1)" opacity="0.65"/>
<rect width="101.2" height="51.6" filter="url(#nd1)" opacity="0.35"/>
</svg>
<rect x="42.1" y="166.3" width="101.2" height="51.6" fill="none" stroke="#3a2828" stroke-width="1.2"/>
<svg x="157.0" y="166.3" width="100.8" height="51.6" viewBox="0 0 100.8 51.6" overflow="hidden">
<rect width="100.8" height="51.6" fill="#C5B1CA"/>
<ellipse cx="50" cy="28" rx="38" ry="8" fill="#C6A6B0" opacity="0.6" filter="url(#b4)"/>
<ellipse cx="25" cy="47" rx="28" ry="6" fill="#C4A4B0" opacity="0.6" filter="url(#b4)"/>
<ellipse cx="84" cy="30" rx="10" ry="8" fill="#C8A2A8" opacity="0.7" filter="url(#b4)"/>
<ellipse cx="30" cy="10" rx="26" ry="9" fill="#B8A8CC" opacity="0.5" filter="url(#b4)"/>
<path d="M0.0,43.5 C0.9,42.7 3.1,40.1 5.4,38.8 C7.7,37.5 10.7,36.4 13.6,35.6 C16.5,34.9 19.8,34.4 23.0,34.3 C26.2,34.2 29.7,34.4 32.7,35.0 C35.7,35.6 38.3,37.0 40.8,38.0 C43.3,39.0 45.7,39.9 47.6,40.8 C49.5,41.7 50.3,42.5 52.0,43.5 C53.7,44.5 55.2,46.3 58.0,47.0 C60.8,47.7 65.3,47.7 69.0,47.6 C72.7,47.5 76.4,47.0 80.0,46.3 C83.6,45.6 87.3,44.6 90.8,43.5 C94.3,42.4 99.3,40.4 101.0,39.8" fill="none" stroke="#F0E8F0" stroke-width="2.24" stroke-linecap="round" opacity="1.00" filter="url(#b07)"/>
<path d="M19.0,2.7 C19.7,3.4 21.6,5.4 23.0,6.8 C24.4,8.2 26.1,9.5 27.2,10.9 C28.2,12.3 29.3,13.4 29.3,15.0 C29.3,16.6 28.4,19.5 27.2,20.4 C26.0,21.3 23.8,19.8 22.4,20.4 C21.0,21.0 20.1,23.1 19.0,23.8 C17.9,24.5 16.2,24.4 15.6,24.5" fill="none" stroke="#F0E8F0" stroke-width="1.60" stroke-linecap="round" opacity="0.84" filter="url(#b07)"/>
<path d="M43.5,5.4 C43.8,6.8 43.9,12.2 45.0,13.6 C46.1,15.0 48.5,12.0 50.0,13.6 C51.5,15.2 52.9,20.5 54.0,23.0 C55.1,25.5 55.4,26.8 56.8,28.6 C58.2,30.4 60.2,32.8 62.2,34.0 C64.2,35.2 66.5,35.1 69.0,36.0 C71.5,36.9 75.8,38.9 77.2,39.5" fill="none" stroke="#F0E8F0" stroke-width="1.60" stroke-linecap="round" opacity="0.84" filter="url(#b07)"/>
<path d="M84.0,4.0 C84.5,4.7 85.6,7.0 86.7,8.2 C87.8,9.3 89.2,10.9 90.8,10.9 C92.4,10.9 94.8,9.1 96.3,8.2 C97.8,7.3 99.1,5.9 99.7,5.4" fill="none" stroke="#F0E8F0" stroke-width="1.76" stroke-linecap="round" opacity="0.89" filter="url(#b07)"/>
<path d="M89.5,32.7 C90.6,32.2 94.5,31.1 96.3,30.0 C98.1,28.9 99.6,26.6 100.3,25.9" fill="none" stroke="#F0E8F0" stroke-width="1.76" stroke-linecap="round" opacity="0.84" filter="url(#b07)"/>
<path d="M2.7,17.7 C2.8,18.2 3.3,19.9 3.5,21.0 C3.7,22.1 3.9,23.9 4.0,24.5" fill="none" stroke="#F0E8F0" stroke-width="1.44" stroke-linecap="round" opacity="0.73" filter="url(#b07)"/>
<path d="M29.3,15.0 C30.1,14.5 32.5,13.2 34.0,12.2 C35.5,11.2 36.4,10.1 38.0,9.0 C39.6,7.9 42.6,6.0 43.5,5.4" fill="none" stroke="#F0E8F0" stroke-width="1.28" stroke-linecap="round" opacity="0.53" filter="url(#b07)"/>
<path d="M77.2,18.4 C78.3,19.0 81.9,21.1 84.0,22.0 C86.1,22.9 87.8,24.2 90.0,24.0 C92.2,23.8 95.8,21.5 97.0,21.0" fill="none" stroke="#F0E8F0" stroke-width="1.28" stroke-linecap="round" opacity="0.53" filter="url(#b07)"/>
<path d="M16.3,43.5 L16.8,47.0" fill="none" stroke="#F0E8F0" stroke-width="1.44" stroke-linecap="round" opacity="0.79" filter="url(#b07)"/>
<path d="M20.4,44.5 L21.0,48.5" fill="none" stroke="#F0E8F0" stroke-width="1.44" stroke-linecap="round" opacity="0.79" filter="url(#b07)"/>
<path d="M27.2,44.5 L27.6,48.5" fill="none" stroke="#F0E8F0" stroke-width="1.44" stroke-linecap="round" opacity="0.79" filter="url(#b07)"/>
<path d="M31.3,46.0 L32.0,50.0" fill="none" stroke="#F0E8F0" stroke-width="1.44" stroke-linecap="round" opacity="0.79" filter="url(#b07)"/>
<path d="M38.0,45.5 L38.5,49.0" fill="none" stroke="#F0E8F0" stroke-width="1.44" stroke-linecap="round" opacity="0.73" filter="url(#b07)"/>
<path d="M58.0,2.0 C58.7,2.7 60.7,5.5 62.0,6.0 C63.3,6.5 65.3,5.2 66.0,5.0" fill="none" stroke="#F0E8F0" stroke-width="1.28" stroke-linecap="round" opacity="0.53" filter="url(#b07)"/>
<path d="M8.0,5.0 C8.7,5.7 11.7,7.5 12.0,9.0 C12.3,10.5 10.3,13.2 10.0,14.0" fill="none" stroke="#F0E8F0" stroke-width="1.28" stroke-linecap="round" opacity="0.53" filter="url(#b07)"/>
<path d="M43.5,21.8 C43.8,20.8 44.8,17.4 45.0,16.0 C45.2,14.6 45.0,14.0 45.0,13.6" fill="none" stroke="#F0E8F0" stroke-width="1.28" stroke-linecap="round" opacity="0.58" filter="url(#b07)"/>
<path d="M77.2,18.6 C77.2,18.2 75.1,17.3 74.0,17.0 C72.9,16.7 71.6,16.6 70.5,17.0 C69.4,17.4 68.0,18.5 67.3,19.5 C66.6,20.5 66.3,21.8 66.2,23.0 C66.1,24.2 66.2,25.9 66.8,27.0 C67.3,28.1 68.9,29.5 69.5,29.5 C70.1,29.5 70.3,28.0 70.2,27.0 C70.1,26.0 69.0,24.6 69.0,23.5 C69.0,22.4 69.7,21.2 70.5,20.5 C71.3,19.8 72.9,19.5 74.0,19.2 C75.1,18.9 77.2,19.0 77.2,18.6Z" fill="#F7F0F3" filter="url(#b05)"/>
<path d="M88.0,36.0 C88.3,35.5 91.0,34.8 92.0,35.0 C93.0,35.2 94.3,36.5 94.0,37.0 C93.7,37.5 91.0,38.2 90.0,38.0 C89.0,37.8 87.7,36.5 88.0,36.0Z" fill="#F6EEF2" opacity="0.7" filter="url(#b05)"/>
<circle cx="85.4" cy="13" r="0.9" fill="#5A58A8" opacity="0.8" filter="url(#b05)"/>
<g filter="url(#b07)"><path d="M52.6,41.6 C53.3,41.1 55.4,39.1 56.5,38.2 C57.7,37.2 58.3,36.3 59.5,35.9 C60.7,35.5 62.8,35.9 63.5,35.9" fill="none" stroke="#E8DCE8" stroke-width="1.14" stroke-linecap="round" opacity="0.31"/><path d="M86.7,41.4 C86.7,40.8 86.6,38.6 87.2,37.7 C87.7,36.9 88.4,36.6 89.9,36.4 C91.5,36.1 94.6,36.8 96.4,36.4 C98.3,35.9 100.4,34.1 101.2,33.6" fill="none" stroke="#E8DCE8" stroke-width="0.98" stroke-linecap="round" opacity="0.44"/><path d="M21.2,27.9 C21.2,27.2 21.3,25.6 21.4,24.2 C21.6,22.7 21.5,20.6 21.9,19.0 C22.2,17.5 22.8,16.1 23.6,14.9 C24.3,13.7 25.9,12.5 26.4,12.0" fill="none" stroke="#E8DCE8" stroke-width="0.95" stroke-linecap="round" opacity="0.29"/><path d="M43.6,29.5 C44.3,28.8 46.7,26.6 47.8,25.2 C49.0,23.7 49.4,21.7 50.4,20.8 C51.4,19.8 52.3,19.9 53.9,19.3 C55.6,18.7 59.2,17.7 60.3,17.3" fill="none" stroke="#E8DCE8" stroke-width="0.96" stroke-linecap="round" opacity="0.30"/><path d="M26.9,40.6 C26.7,41.2 26.5,43.6 25.8,44.6 C25.0,45.6 23.5,45.6 22.5,46.4 C21.5,47.2 20.4,48.4 20.0,49.3 C19.6,50.2 19.9,51.6 19.9,52.0" fill="none" stroke="#E8DCE8" stroke-width="0.99" stroke-linecap="round" opacity="0.40"/><path d="M33.8,2.6 C34.5,2.5 36.2,2.2 37.8,2.2 C39.5,2.3 42.7,2.7 43.7,2.8" fill="none" stroke="#E8DCE8" stroke-width="0.83" stroke-linecap="round" opacity="0.23"/><path d="M99.5,47.0 C100.1,47.0 101.3,47.2 103.0,47.5 C104.7,47.7 108.0,47.4 109.7,48.3 C111.4,49.1 111.4,51.4 113.0,52.5 C114.6,53.6 118.3,54.5 119.4,54.9" fill="none" stroke="#E8DCE8" stroke-width="1.24" stroke-linecap="round" opacity="0.38"/><path d="M91.5,2.6 C92.5,2.9 96.3,3.9 97.7,4.6 C99.0,5.3 99.3,5.9 99.6,6.6 C99.8,7.4 99.2,8.9 99.1,9.3" fill="none" stroke="#E8DCE8" stroke-width="1.12" stroke-linecap="round" opacity="0.42"/><path d="M66.3,20.8 C67.3,21.3 70.1,23.2 72.2,23.7 C74.3,24.2 77.9,24.0 79.0,24.0" fill="none" stroke="#E8DCE8" stroke-width="0.99" stroke-linecap="round" opacity="0.41"/><path d="M5.0,45.8 C4.2,45.8 1.6,45.8 0.3,45.6 C-1.0,45.5 -1.7,45.2 -2.9,44.9 C-4.0,44.7 -6.0,44.4 -6.7,44.3" fill="none" stroke="#E8DCE8" stroke-width="0.93" stroke-linecap="round" opacity="0.41"/><path d="M97.8,30.9 C98.5,30.8 101.0,30.2 102.4,30.4 C103.8,30.7 104.6,31.4 106.0,32.3 C107.4,33.3 109.6,34.8 111.0,35.9 C112.5,37.1 114.1,38.6 114.7,39.1" fill="none" stroke="#E8DCE8" stroke-width="0.86" stroke-linecap="round" opacity="0.45"/><path d="M76.1,15.7 C76.1,16.1 75.4,17.4 76.3,18.4 C77.3,19.4 80.7,20.3 81.8,21.5 C82.9,22.7 82.2,24.5 83.0,25.6 C83.8,26.7 86.0,27.8 86.5,28.3" fill="none" stroke="#E8DCE8" stroke-width="1.17" stroke-linecap="round" opacity="0.24"/><path d="M55.4,23.4 C54.4,23.7 51.5,24.7 49.6,25.4 C47.8,26.1 45.2,27.2 44.3,27.6" fill="none" stroke="#E8DCE8" stroke-width="0.76" stroke-linecap="round" opacity="0.28"/><path d="M52.2,36.1 C52.8,36.4 54.1,37.5 55.8,37.8 C57.4,38.2 59.9,37.5 61.9,37.9 C63.8,38.4 66.4,40.0 67.3,40.4" fill="none" stroke="#E8DCE8" stroke-width="1.25" stroke-linecap="round" opacity="0.32"/><path d="M82.8,47.7 C83.8,47.5 87.3,47.0 88.8,46.7 C90.4,46.4 91.4,46.0 91.9,45.8" fill="none" stroke="#E8DCE8" stroke-width="0.97" stroke-linecap="round" opacity="0.26"/><path d="M54.3,13.9 C53.5,14.6 50.9,16.6 49.5,18.0 C48.1,19.4 47.0,20.9 45.7,22.3 C44.4,23.8 42.1,25.2 41.4,26.8 C40.8,28.3 41.9,30.7 42.1,31.5" fill="none" stroke="#E8DCE8" stroke-width="1.13" stroke-linecap="round" opacity="0.36"/><path d="M87.2,16.8 C87.7,17.2 89.0,18.3 90.0,19.1 C90.9,19.9 92.4,21.1 92.8,21.5" fill="none" stroke="#E8DCE8" stroke-width="0.71" stroke-linecap="round" opacity="0.27"/><path d="M68.6,16.0 C69.3,16.4 72.0,17.2 72.8,18.3 C73.6,19.3 73.6,21.3 73.5,22.5 C73.4,23.6 72.4,24.5 72.2,24.9" fill="none" stroke="#E8DCE8" stroke-width="0.91" stroke-linecap="round" opacity="0.43"/><path d="M78.7,31.2 C79.3,30.9 80.7,30.2 81.9,29.7 C83.1,29.2 84.0,28.4 85.7,28.2 C87.4,28.0 90.7,28.1 92.2,28.7 C93.8,29.2 94.6,31.1 95.1,31.6" fill="none" stroke="#E8DCE8" stroke-width="1.02" stroke-linecap="round" opacity="0.25"/><path d="M71.7,40.1 C71.0,40.4 68.6,41.2 67.3,41.6 C66.0,42.0 65.4,42.7 64.0,42.6 C62.7,42.5 60.2,41.3 59.5,41.1" fill="none" stroke="#E8DCE8" stroke-width="0.95" stroke-linecap="round" opacity="0.30"/><path d="M64.1,17.3 C64.3,17.8 64.5,19.6 65.8,20.6 C67.0,21.7 70.4,23.1 71.3,23.6" fill="none" stroke="#E8DCE8" stroke-width="0.68" stroke-linecap="round" opacity="0.29"/><path d="M77.0,16.6 C77.6,16.2 79.5,15.3 80.6,14.4 C81.7,13.4 82.5,11.9 83.6,10.9 C84.7,9.9 85.6,8.8 87.2,8.4 C88.8,8.1 92.2,8.7 93.2,8.8" fill="none" stroke="#E8DCE8" stroke-width="1.25" stroke-linecap="round" opacity="0.36"/><path d="M90.5,13.3 C90.1,14.0 88.4,16.6 87.7,17.9 C87.1,19.1 86.3,19.9 86.4,20.9 C86.5,22.0 88.2,23.3 88.3,24.3 C88.4,25.4 87.3,26.7 87.1,27.2" fill="none" stroke="#E8DCE8" stroke-width="0.83" stroke-linecap="round" opacity="0.22"/><path d="M57.3,3.1 C56.8,2.5 54.9,0.8 54.1,-0.4 C53.3,-1.6 52.8,-3.0 52.6,-4.0 C52.5,-5.1 53.2,-6.4 53.3,-6.9" fill="none" stroke="#E8DCE8" stroke-width="0.89" stroke-linecap="round" opacity="0.26"/><path d="M86.1,38.0 C85.4,37.5 83.6,35.7 82.3,34.8 C81.0,33.9 79.0,33.0 78.3,32.6" fill="none" stroke="#E8DCE8" stroke-width="0.75" stroke-linecap="round" opacity="0.39"/><path d="M78.8,48.5 C78.3,48.3 77.1,47.5 75.8,47.3 C74.5,47.1 72.8,47.2 71.1,47.3 C69.4,47.5 66.4,48.1 65.5,48.2" fill="none" stroke="#E8DCE8" stroke-width="0.87" stroke-linecap="round" opacity="0.29"/><path d="M87.9,41.0 C86.8,41.3 83.5,42.1 81.7,42.6 C80.0,43.1 78.9,43.2 77.1,43.9 C75.3,44.5 72.0,46.0 71.0,46.5" fill="none" stroke="#E8DCE8" stroke-width="0.93" stroke-linecap="round" opacity="0.45"/><path d="M18.5,1.6 C18.1,1.9 17.1,3.2 16.0,3.6 C14.9,4.0 12.6,4.0 11.9,4.1" fill="none" stroke="#E8DCE8" stroke-width="0.66" stroke-linecap="round" opacity="0.43"/><path d="M85.5,33.4 C84.8,33.4 83.2,33.5 81.5,33.4 C79.8,33.4 77.0,32.6 75.4,33.0 C73.7,33.4 73.1,34.8 71.6,35.8 C70.1,36.8 67.3,38.6 66.5,39.2" fill="none" stroke="#E8DCE8" stroke-width="1.07" stroke-linecap="round" opacity="0.28"/><path d="M62.1,46.5 C62.5,46.0 63.7,44.4 64.5,43.4 C65.2,42.4 65.6,41.3 66.6,40.4 C67.7,39.6 69.6,38.5 70.8,38.2 C72.0,38.0 73.2,38.8 73.7,38.9" fill="none" stroke="#E8DCE8" stroke-width="1.14" stroke-linecap="round" opacity="0.24"/><path d="M52.3,7.7 C51.8,7.9 51.1,8.8 49.6,9.3 C48.1,9.7 45.0,10.4 43.1,10.6 C41.2,10.8 39.8,10.6 38.2,10.3 C36.6,10.1 34.1,9.2 33.3,9.0" fill="none" stroke="#E8DCE8" stroke-width="0.91" stroke-linecap="round" opacity="0.38"/><path d="M84.8,0.9 C84.2,1.0 82.2,1.3 81.0,1.1 C79.7,0.9 77.8,-0.1 77.2,-0.4" fill="none" stroke="#E8DCE8" stroke-width="1.01" stroke-linecap="round" opacity="0.35"/><path d="M44.1,19.8 C44.1,19.1 44.2,17.0 43.8,15.7 C43.5,14.4 42.4,12.7 42.1,12.1" fill="none" stroke="#E8DCE8" stroke-width="1.11" stroke-linecap="round" opacity="0.42"/><path d="M9.4,33.4 C8.8,33.9 7.4,35.7 5.9,36.6 C4.5,37.6 1.7,38.8 0.9,39.3" fill="none" stroke="#E8DCE8" stroke-width="0.67" stroke-linecap="round" opacity="0.29"/><path d="M3.9,8.0 C5.0,7.8 8.3,7.1 10.4,7.3 C12.4,7.4 14.3,8.8 16.2,8.8 C18.2,8.7 20.1,7.2 21.8,6.9 C23.6,6.7 25.9,7.4 26.8,7.5" fill="none" stroke="#E8DCE8" stroke-width="0.89" stroke-linecap="round" opacity="0.41"/><path d="M68.0,29.8 C67.5,29.7 66.0,29.8 64.6,29.1 C63.2,28.5 60.6,27.3 59.4,26.0 C58.3,24.8 58.3,23.2 57.6,21.8 C56.9,20.3 55.7,18.0 55.3,17.2" fill="none" stroke="#E8DCE8" stroke-width="0.76" stroke-linecap="round" opacity="0.23"/><path d="M20.7,27.4 C21.0,27.9 21.5,29.9 23.0,30.7 C24.4,31.5 27.8,32.0 29.6,32.1 C31.3,32.2 32.9,31.6 33.5,31.5" fill="none" stroke="#E8DCE8" stroke-width="1.19" stroke-linecap="round" opacity="0.42"/><path d="M36.5,22.1 C36.3,21.2 36.3,18.0 35.3,16.7 C34.3,15.5 31.5,15.5 30.6,14.5 C29.7,13.6 30.0,12.5 30.0,11.1 C29.9,9.7 30.1,7.0 30.1,6.1" fill="none" stroke="#E8DCE8" stroke-width="1.05" stroke-linecap="round" opacity="0.25"/></g>
<g filter="url(#b07)"><path d="M68.3,40.5 C67.6,40.7 65.7,41.4 64.2,41.9 C62.7,42.4 60.6,43.1 59.2,43.4 C57.8,43.7 57.5,43.5 55.9,43.9 C54.2,44.3 50.5,45.5 49.4,45.8" fill="none" stroke="#C8A0A4" stroke-width="2.05" stroke-linecap="round" opacity="0.34"/><path d="M90.4,1.2 C90.4,0.7 90.4,-0.3 90.2,-1.6 C90.0,-2.9 89.3,-5.8 89.2,-6.7" fill="none" stroke="#C8A0A4" stroke-width="1.20" stroke-linecap="round" opacity="0.20"/><path d="M1.7,29.9 C0.7,30.4 -2.4,32.2 -4.1,33.0 C-5.8,33.8 -7.4,33.8 -8.6,34.8 C-9.8,35.7 -10.8,38.0 -11.2,38.7" fill="none" stroke="#C8A0A4" stroke-width="1.58" stroke-linecap="round" opacity="0.34"/><path d="M58.1,5.6 C58.9,6.0 60.8,7.8 62.5,8.2 C64.2,8.6 67.3,8.0 68.3,8.0" fill="none" stroke="#C8A0A4" stroke-width="1.13" stroke-linecap="round" opacity="0.28"/><path d="M48.4,6.2 C47.6,6.3 45.1,6.6 43.7,6.7 C42.3,6.8 40.9,6.5 40.0,6.9 C39.0,7.3 38.8,8.2 38.0,9.1 C37.3,10.0 35.9,11.8 35.5,12.3" fill="none" stroke="#C8A0A4" stroke-width="1.88" stroke-linecap="round" opacity="0.32"/><path d="M94.3,24.5 C93.5,24.5 91.2,24.0 89.5,24.1 C87.7,24.3 85.2,24.6 83.9,25.3 C82.7,25.9 82.4,27.5 82.1,28.0" fill="none" stroke="#C8A0A4" stroke-width="1.89" stroke-linecap="round" opacity="0.34"/><path d="M10.2,3.4 C9.8,3.1 8.4,2.0 7.8,1.2 C7.2,0.4 7.3,-0.5 6.4,-1.2 C5.4,-1.9 3.3,-1.8 2.1,-2.8 C1.0,-3.9 -0.1,-6.7 -0.5,-7.5" fill="none" stroke="#C8A0A4" stroke-width="1.35" stroke-linecap="round" opacity="0.28"/><path d="M100.6,41.8 C100.1,42.6 98.5,45.2 97.5,46.4 C96.5,47.6 95.6,48.3 94.8,48.9 C93.9,49.6 93.2,49.8 92.2,50.4 C91.1,50.9 89.0,51.8 88.3,52.1" fill="none" stroke="#C8A0A4" stroke-width="1.40" stroke-linecap="round" opacity="0.24"/><path d="M32.0,1.3 C32.4,1.7 33.4,3.0 34.3,4.0 C35.2,5.0 36.9,6.7 37.4,7.2" fill="none" stroke="#C8A0A4" stroke-width="2.23" stroke-linecap="round" opacity="0.35"/><path d="M81.0,29.0 C81.5,28.4 83.1,26.3 84.2,25.4 C85.3,24.4 86.3,24.1 87.5,23.4 C88.7,22.7 90.3,21.8 91.3,21.2 C92.4,20.5 93.5,19.8 93.9,19.6" fill="none" stroke="#C8A0A4" stroke-width="2.07" stroke-linecap="round" opacity="0.21"/><path d="M46.2,48.0 C45.4,48.2 43.0,48.8 41.6,49.3 C40.3,49.9 38.6,50.9 38.0,51.2" fill="none" stroke="#C8A0A4" stroke-width="1.53" stroke-linecap="round" opacity="0.27"/><path d="M84.8,50.1 C85.4,50.6 86.9,51.8 87.9,53.1 C88.9,54.3 89.7,56.7 90.9,57.7 C92.1,58.7 93.6,58.6 95.3,59.0 C97.0,59.5 100.1,60.1 101.0,60.3" fill="none" stroke="#C8A0A4" stroke-width="1.17" stroke-linecap="round" opacity="0.24"/><path d="M8.9,11.7 C9.8,11.4 12.3,10.4 14.1,9.9 C15.9,9.4 18.8,8.7 19.7,8.5" fill="none" stroke="#C8A0A4" stroke-width="1.70" stroke-linecap="round" opacity="0.36"/><path d="M59.2,2.4 C58.6,1.9 56.6,0.2 55.7,-0.6 C54.8,-1.5 54.8,-2.1 53.8,-2.6 C52.9,-3.1 51.7,-3.8 50.1,-3.8 C48.5,-3.7 45.0,-2.4 44.0,-2.1" fill="none" stroke="#C8A0A4" stroke-width="1.26" stroke-linecap="round" opacity="0.33"/></g>
<rect width="100.8" height="51.6" filter="url(#nw2)" opacity="0.65"/>
<rect width="100.8" height="51.6" filter="url(#nd2)" opacity="0.32"/>
</svg>
<rect x="157.0" y="166.3" width="100.8" height="51.6" fill="none" stroke="#3a2828" stroke-width="1.2"/>
<svg x="278.6" y="166.3" width="100.6" height="51.6" viewBox="0 0 100.6 51.6" overflow="hidden">
<rect width="100.6" height="51.6" fill="#DEBCB0"/>
<ellipse cx="66" cy="30" rx="11" ry="14" fill="#B8A8C4" opacity="0.55" filter="url(#b2)"/>
<ellipse cx="77" cy="4" rx="13" ry="5" fill="#BCAAC4" opacity="0.5" filter="url(#b2)"/>
<ellipse cx="24" cy="40" rx="4" ry="9" fill="#C4AEC2" opacity="0.45" filter="url(#b2)"/>
<ellipse cx="46" cy="24" rx="3.5" ry="8" fill="#C0ACC4" opacity="0.45" filter="url(#b2)"/>
<ellipse cx="80" cy="42" rx="14" ry="7" fill="#C8B0C0" opacity="0.4" filter="url(#b2)"/>
<rect width="100.6" height="51.6" filter="url(#nw3)" opacity="0.55"/>
<rect width="100.6" height="51.6" filter="url(#nb3)" opacity="0.38"/>
<path d="M-1.0,2.7 C1.0,-0.0 8.9,1.8 11.0,2.7 C13.1,3.6 12.0,6.5 11.5,8.0 C11.0,9.6 9.5,10.4 8.0,12.0 C6.5,13.6 4.2,16.5 2.7,17.7 C1.2,18.9 -0.4,21.5 -1.0,19.0 C-1.6,16.5 -3.0,5.4 -1.0,2.7Z" fill="#CBA292" stroke="#F2E4DE" stroke-width="1.1" opacity="0.9" filter="url(#b07)"/>
<path d="M13.6,9.5 C14.5,8.5 16.3,7.4 17.7,7.5 C19.1,7.6 21.1,8.7 21.8,10.2 C22.5,11.7 22.4,13.9 21.8,16.3 C21.2,18.7 19.4,21.8 18.4,24.5 C17.4,27.2 16.5,30.0 15.6,32.7 C14.7,35.4 14.5,39.2 13.0,40.8 C11.5,42.3 8.3,42.5 6.8,42.0 C5.3,41.5 4.0,40.2 4.0,38.0 C4.0,35.8 5.8,31.5 6.8,28.6 C7.8,25.7 9.3,22.9 10.2,20.4 C11.1,17.9 11.6,15.4 12.2,13.6 C12.8,11.8 12.7,10.5 13.6,9.5Z" fill="#CBA292" stroke="#F2E4DE" stroke-width="1.1" opacity="0.95" filter="url(#b07)"/>
<path d="M15.6,1.4 C16.3,0.7 19.7,0.7 20.4,1.4 C21.1,2.1 20.4,4.7 19.7,5.4 C19.0,6.1 17.0,6.1 16.3,5.4 C15.6,4.7 14.9,2.1 15.6,1.4Z" fill="#CBA292" stroke="#F2E4DE" stroke-width="1.1" opacity="0.85" filter="url(#b07)"/>
<path d="M27.2,19.0 C28.2,17.9 30.9,16.8 32.7,16.3 C34.5,15.9 36.6,15.3 38.0,16.3 C39.4,17.3 40.1,20.6 40.8,22.4 C41.5,24.2 42.2,25.5 42.0,27.2 C41.8,28.9 41.0,31.3 39.5,32.7 C38.0,34.1 34.5,35.4 32.7,35.4 C30.9,35.4 29.2,34.1 28.6,32.7 C28.0,31.3 29.7,28.8 29.3,27.2 C28.9,25.6 26.9,24.4 26.5,23.0 C26.1,21.6 26.2,20.1 27.2,19.0Z" fill="#CBA292" stroke="#F2E4DE" stroke-width="1.1" opacity="0.95" filter="url(#b07)"/>
<path d="M45.0,6.8 C45.8,6.2 48.0,7.7 50.0,8.2 C52.0,8.6 54.1,9.1 56.8,9.5 C59.5,9.9 63.6,10.3 66.3,10.9 C69.0,11.5 71.5,12.0 73.0,13.0 C74.5,14.0 76.1,16.3 75.0,17.0 C73.9,17.7 69.1,17.1 66.3,17.0 C63.5,16.9 60.5,16.8 58.0,16.3 C55.5,15.9 53.5,15.1 51.4,14.3 C49.3,13.5 46.6,12.8 45.5,11.5 C44.4,10.2 44.2,7.3 45.0,6.8Z" fill="#CBA292" stroke="#F2E4DE" stroke-width="1.1" opacity="0.8" filter="url(#b07)"/>
<path d="M39.5,39.5 C40.5,37.9 44.2,36.3 46.0,35.4 C47.8,34.5 48.2,34.0 50.0,34.0 C51.8,34.0 55.2,34.5 56.8,35.4 C58.4,36.3 59.5,37.9 59.5,39.5 C59.5,41.1 58.4,43.6 56.8,45.0 C55.2,46.4 52.1,47.0 50.0,47.6 C47.9,48.2 45.7,48.9 44.0,48.5 C42.3,48.1 40.8,46.5 40.0,45.0 C39.2,43.5 38.5,41.1 39.5,39.5Z" fill="#CBA292" stroke="#F2E4DE" stroke-width="1.1" opacity="0.9" filter="url(#b07)"/>
<path d="M81.3,23.8 C82.2,22.2 87.2,20.0 88.8,20.4 C90.4,20.8 90.8,23.8 90.8,25.9 C90.8,27.9 89.7,31.2 88.8,32.7 C87.9,34.2 86.3,35.2 85.4,34.7 C84.5,34.2 84.0,31.8 83.3,30.0 C82.6,28.2 80.4,25.4 81.3,23.8Z" fill="#CBA292" stroke="#F2E4DE" stroke-width="1.1" opacity="0.85" filter="url(#b07)"/>
<path d="M92.2,12.2 C92.8,10.8 96.6,10.0 97.6,10.9 C98.6,11.8 98.9,16.3 98.3,17.7 C97.7,19.1 95.2,19.9 94.2,19.0 C93.2,18.1 91.6,13.5 92.2,12.2Z" fill="#CBA292" stroke="#F2E4DE" stroke-width="1.1" opacity="0.6" filter="url(#b07)"/>
<path d="M32.7,43.5 C34.0,42.2 38.6,43.4 39.5,45.0 C40.4,46.6 39.2,51.7 38.0,53.0 C36.8,54.3 32.9,54.6 32.0,53.0 C31.1,51.4 31.5,44.8 32.7,43.5Z" fill="#CBA292" stroke="#F2E4DE" stroke-width="1.1" opacity="0.85" filter="url(#b07)"/>
<path d="M-1.0,41.0 C0.5,39.7 6.0,43.0 8.0,45.0 C10.0,47.0 12.5,51.7 11.0,53.0 C9.5,54.3 1.0,55.0 -1.0,53.0 C-3.0,51.0 -2.5,42.3 -1.0,41.0Z" fill="#CBA292" stroke="#F2E4DE" stroke-width="1.1" opacity="0.8" filter="url(#b07)"/>
<path d="M-1.0,23.0 C-0.2,21.2 3.3,23.2 4.0,25.0 C4.7,26.8 3.8,32.2 3.0,34.0 C2.2,35.8 -0.3,37.8 -1.0,36.0 C-1.7,34.2 -1.8,24.8 -1.0,23.0Z" fill="#CBA292" stroke="#F2E4DE" stroke-width="1.1" opacity="0.6" filter="url(#b07)"/>
<path d="M66.0,45.0 C67.0,43.3 73.7,42.2 76.0,43.0 C78.3,43.8 81.0,48.3 80.0,50.0 C79.0,51.7 72.3,53.8 70.0,53.0 C67.7,52.2 65.0,46.7 66.0,45.0Z" fill="#CBA292" stroke="#F2E4DE" stroke-width="1.1" opacity="0.45" filter="url(#b07)"/>
<path d="M93.0,37.0 C93.8,35.2 98.7,33.5 100.0,35.0 C101.3,36.5 101.8,44.2 101.0,46.0 C100.2,47.8 96.3,47.5 95.0,46.0 C93.7,44.5 92.2,38.8 93.0,37.0Z" fill="#CBA292" stroke="#F2E4DE" stroke-width="1.1" opacity="0.45" filter="url(#b07)"/>
<rect width="100.6" height="51.6" filter="url(#nf3)" opacity="0.45"/>
</svg>
<rect x="278.6" y="166.3" width="100.6" height="51.6" fill="none" stroke="#3a2828" stroke-width="1.2"/>
<svg x="392.8" y="166.3" width="101.2" height="51.6" viewBox="0 0 101.2 51.6" overflow="hidden">
<rect width="101.2" height="51.6" fill="#E0AE98"/>
<ellipse cx="47" cy="22" rx="10" ry="17" fill="#BCA2C0" opacity="0.4" filter="url(#b2)"/>
<ellipse cx="58" cy="26" rx="8" ry="14" fill="#BCA2C0" opacity="0.35" filter="url(#b2)"/>
<ellipse cx="92" cy="30" rx="10" ry="20" fill="#C8A4B4" opacity="0.35" filter="url(#b2)"/>
<ellipse cx="68" cy="44" rx="7" ry="8" fill="#C4A4B8" opacity="0.3" filter="url(#b2)"/>
<rect width="101.2" height="51.6" filter="url(#nw4)" opacity="0.9"/>
<rect width="101.2" height="51.6" filter="url(#nb4)" opacity="0.75"/>
<path d="M5.4,12.2 C6.4,10.9 7.5,9.5 9.5,8.8 C11.6,8.1 15.5,8.8 17.7,8.2 C19.8,7.6 20.8,5.6 22.4,5.4 C24.0,5.2 26.0,5.4 27.2,6.8 C28.4,8.2 28.3,11.3 29.3,13.6 C30.3,15.9 31.9,18.3 33.3,20.4 C34.6,22.4 37.0,24.1 37.4,25.9 C37.8,27.7 36.9,29.7 35.4,31.3 C33.9,32.9 30.4,33.8 28.6,35.4 C26.8,37.0 26.3,40.1 24.5,40.8 C22.7,41.5 20.4,41.1 17.7,39.5 C15.0,37.9 10.6,34.0 8.2,31.3 C5.8,28.6 4.2,25.5 3.4,23.0 C2.6,20.5 3.1,18.1 3.4,16.3 C3.7,14.5 4.4,13.4 5.4,12.2Z" fill="#DA9C82" stroke="#F6E8E4" stroke-width="1.3" opacity="0.8" filter="url(#b05)"/>
<path d="M39.5,53.0 C36.3,51.8 40.9,48.0 42.0,46.0 C43.1,44.0 45.0,42.5 46.3,41.0 C47.6,39.5 48.5,37.2 50.0,37.0 C51.5,36.8 53.6,38.7 55.0,40.0 C56.4,41.3 57.5,42.8 58.5,45.0 C59.5,47.2 64.2,51.7 61.0,53.0 C57.8,54.3 42.7,54.2 39.5,53.0Z" fill="#DAA088" stroke="#F6E8E4" stroke-width="1.3" opacity="0.75" filter="url(#b05)"/>
<path d="M58.0,-2.0 C53.8,-1.2 57.3,1.0 58.0,2.7 C58.7,4.4 59.9,6.6 62.0,8.0 C64.1,9.4 67.9,10.7 70.4,10.9 C72.9,11.2 75.4,10.4 77.2,9.5 C79.0,8.6 80.3,7.3 81.3,5.4 C82.3,3.5 86.9,-0.8 83.0,-2.0 C79.1,-3.2 62.2,-2.8 58.0,-2.0Z" fill="#DCA48C" stroke="#F6E8E4" stroke-width="1.3" opacity="0.75" filter="url(#b05)"/>
<path d="M-2.0,36.0 C-0.7,33.5 3.3,37.0 6.0,38.0 C8.7,39.0 11.0,41.0 14.0,42.0 C17.0,43.0 20.8,43.0 24.0,44.0 C27.2,45.0 31.0,46.5 33.0,48.0 C35.0,49.5 41.8,52.2 36.0,53.0 C30.2,53.8 4.3,55.8 -2.0,53.0 C-8.3,50.2 -3.3,38.5 -2.0,36.0Z" fill="#DAA48E" stroke="#F6E8E4" stroke-width="1.3" opacity="0.7" filter="url(#b05)"/>
<path d="M66.0,22.0 C67.5,20.7 71.5,19.8 74.0,20.0 C76.5,20.2 80.0,21.3 81.0,23.0 C82.0,24.7 81.8,28.3 80.0,30.0 C78.2,31.7 72.5,33.3 70.0,33.0 C67.5,32.7 65.7,29.8 65.0,28.0 C64.3,26.2 64.5,23.3 66.0,22.0Z" fill="#C88468" opacity="0.55" filter="url(#b1)"/>
<rect width="101.2" height="51.6" filter="url(#nb4b)" opacity="0.55"/>
<rect width="101.2" height="51.6" filter="url(#nr4)" opacity="0.2"/>
<rect width="101.2" height="51.6" filter="url(#nf4)" opacity="0.55"/>
</svg>
<rect x="392.8" y="166.3" width="101.2" height="51.6" fill="none" stroke="#3a2828" stroke-width="1.2"/>
</g>
</svg>
</body></html>
